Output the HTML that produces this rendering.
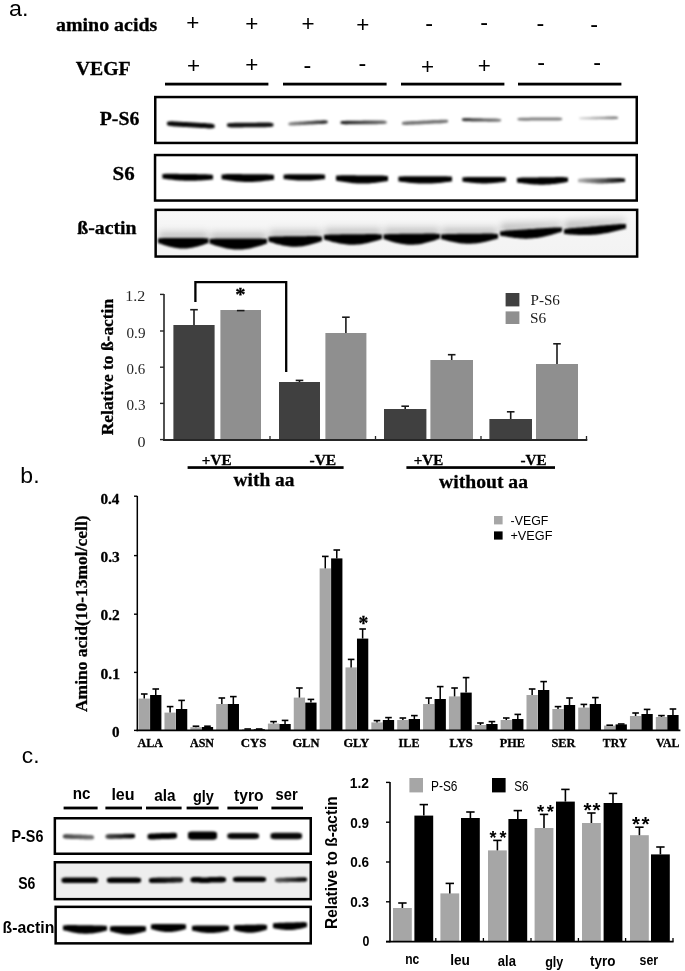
<!DOCTYPE html>
<html><head><meta charset="utf-8"><title>Figure</title>
<style>html,body{margin:0;padding:0;background:#fff;}body{width:685px;height:971px;overflow:hidden;}svg{display:block;}</style>
</head><body>
<svg width="685" height="971" viewBox="0 0 685 971">
<defs><filter id="b1" x="-20%" y="-200%" width="140%" height="500%"><feGaussianBlur stdDeviation="0.8"/></filter><filter id="b2" x="-20%" y="-200%" width="140%" height="500%"><feGaussianBlur stdDeviation="1.3"/></filter><filter id="b3" x="-20%" y="-200%" width="140%" height="500%"><feGaussianBlur stdDeviation="3"/></filter><linearGradient id="bgA" x1="0" y1="0" x2="0" y2="1"><stop offset="0" stop-color="#f8f8f8"/><stop offset="0.4" stop-color="#f5f5f5"/><stop offset="1" stop-color="#f3f3f3"/></linearGradient><linearGradient id="g1" gradientUnits="userSpaceOnUse" x1="288.4" y1="0" x2="327.6" y2="0"><stop offset="0" stop-color="#000" stop-opacity="0.45"/><stop offset="1" stop-color="#000" stop-opacity="0.85"/></linearGradient><linearGradient id="g2" gradientUnits="userSpaceOnUse" x1="340.6" y1="0" x2="386.6" y2="0"><stop offset="0" stop-color="#000" stop-opacity="0.9"/><stop offset="1" stop-color="#000" stop-opacity="0.55"/></linearGradient><linearGradient id="g3" gradientUnits="userSpaceOnUse" x1="462" y1="0" x2="501" y2="0"><stop offset="0" stop-color="#000" stop-opacity="0.8"/><stop offset="1" stop-color="#000" stop-opacity="0.5"/></linearGradient><linearGradient id="g4" gradientUnits="userSpaceOnUse" x1="579" y1="0" x2="618" y2="0"><stop offset="0" stop-color="#000" stop-opacity="0.12"/><stop offset="1" stop-color="#000" stop-opacity="0.55"/></linearGradient><linearGradient id="g5" gradientUnits="userSpaceOnUse" x1="578" y1="0" x2="625" y2="0"><stop offset="0" stop-color="#000" stop-opacity="0.3"/><stop offset="1" stop-color="#000" stop-opacity="1.0"/></linearGradient><linearGradient id="h6" x1="0" y1="0" x2="0" y2="1"><stop offset="0" stop-color="#000" stop-opacity="0"/><stop offset="1" stop-color="#000" stop-opacity="0.32"/></linearGradient><linearGradient id="h7" x1="0" y1="0" x2="0" y2="1"><stop offset="0" stop-color="#000" stop-opacity="0"/><stop offset="1" stop-color="#000" stop-opacity="0.32"/></linearGradient><linearGradient id="h8" x1="0" y1="0" x2="0" y2="1"><stop offset="0" stop-color="#000" stop-opacity="0"/><stop offset="1" stop-color="#000" stop-opacity="0.32"/></linearGradient><linearGradient id="h9" x1="0" y1="0" x2="0" y2="1"><stop offset="0" stop-color="#000" stop-opacity="0"/><stop offset="1" stop-color="#000" stop-opacity="0.32"/></linearGradient><linearGradient id="h10" x1="0" y1="0" x2="0" y2="1"><stop offset="0" stop-color="#000" stop-opacity="0"/><stop offset="1" stop-color="#000" stop-opacity="0.32"/></linearGradient><linearGradient id="h11" x1="0" y1="0" x2="0" y2="1"><stop offset="0" stop-color="#000" stop-opacity="0"/><stop offset="1" stop-color="#000" stop-opacity="0.32"/></linearGradient><linearGradient id="h12" x1="0" y1="0" x2="0" y2="1"><stop offset="0" stop-color="#000" stop-opacity="0"/><stop offset="1" stop-color="#000" stop-opacity="0.32"/></linearGradient><linearGradient id="h13" x1="0" y1="0" x2="0" y2="1"><stop offset="0" stop-color="#000" stop-opacity="0"/><stop offset="1" stop-color="#000" stop-opacity="0.32"/></linearGradient><linearGradient id="g14" gradientUnits="userSpaceOnUse" x1="63" y1="0" x2="94" y2="0"><stop offset="0" stop-color="#000" stop-opacity="0.72"/><stop offset="1" stop-color="#000" stop-opacity="0.55"/></linearGradient><linearGradient id="g15" gradientUnits="userSpaceOnUse" x1="105.6" y1="0" x2="135" y2="0"><stop offset="0" stop-color="#000" stop-opacity="0.7"/><stop offset="1" stop-color="#000" stop-opacity="1.0"/></linearGradient><linearGradient id="g16" gradientUnits="userSpaceOnUse" x1="149" y1="0" x2="183" y2="0"><stop offset="0" stop-color="#000" stop-opacity="1.0"/><stop offset="1" stop-color="#000" stop-opacity="0.85"/></linearGradient><linearGradient id="g17" gradientUnits="userSpaceOnUse" x1="275" y1="0" x2="307" y2="0"><stop offset="0" stop-color="#000" stop-opacity="0.6"/><stop offset="1" stop-color="#000" stop-opacity="1.0"/></linearGradient></defs>
<rect width="685" height="971" fill="#fff"/>
<rect x="165.00" y="82.70" width="103.40" height="2.80" fill="#000"/>
<rect x="283.00" y="82.70" width="103.60" height="2.80" fill="#000"/>
<rect x="401.00" y="82.70" width="103.40" height="2.80" fill="#000"/>
<rect x="518.00" y="82.70" width="103.40" height="2.80" fill="#000"/>
<path d="M167.0,122.0 L169.0,121.5 L171.0,121.3 L172.9,121.3 L174.9,121.5 L176.9,121.6 L178.9,121.7 L180.9,121.8 L182.9,121.9 L184.8,122.0 L186.8,122.1 L188.8,122.2 L190.8,122.3 L192.8,122.5 L194.8,122.6 L196.8,122.7 L198.7,122.8 L200.7,122.9 L202.7,123.0 L204.7,123.1 L206.7,123.2 L208.6,123.4 L210.6,123.6 L212.6,124.0 L214.6,124.7 L214.6,127.7 L212.6,128.2 L210.6,128.4 L208.6,128.4 L206.7,128.2 L204.7,128.1 L202.7,128.0 L200.7,127.9 L198.7,127.8 L196.8,127.7 L194.8,127.6 L192.8,127.5 L190.8,127.3 L188.8,127.2 L186.8,127.1 L184.8,127.0 L182.9,126.9 L180.9,126.8 L178.9,126.7 L176.9,126.6 L174.9,126.5 L172.9,126.3 L171.0,126.1 L169.0,125.7 L167.0,125.0Z" fill="#000" fill-opacity="0.97" filter="url(#b1)"/>
<path d="M227.0,123.8 L228.9,123.2 L230.9,123.0 L232.8,122.9 L234.7,122.8 L236.7,122.8 L238.6,122.8 L240.5,122.8 L242.5,122.8 L244.4,122.8 L246.3,122.7 L248.3,122.7 L250.2,122.7 L252.1,122.7 L254.1,122.7 L256.0,122.7 L257.9,122.6 L259.9,122.6 L261.8,122.6 L263.7,122.6 L265.7,122.6 L267.6,122.5 L269.5,122.6 L271.5,122.9 L273.4,123.4 L273.4,126.2 L271.5,126.8 L269.5,127.0 L267.6,127.1 L265.7,127.2 L263.7,127.2 L261.8,127.2 L259.9,127.2 L257.9,127.2 L256.0,127.2 L254.1,127.3 L252.1,127.3 L250.2,127.3 L248.3,127.3 L246.3,127.3 L244.4,127.3 L242.5,127.4 L240.5,127.4 L238.6,127.4 L236.7,127.4 L234.7,127.4 L232.8,127.5 L230.9,127.4 L228.9,127.1 L227.0,126.6Z" fill="#000" fill-opacity="0.93" filter="url(#b1)"/>
<path d="M288.4,122.9 L290.0,122.4 L291.7,122.1 L293.3,121.9 L294.9,121.8 L296.6,121.7 L298.2,121.7 L299.8,121.6 L301.5,121.5 L303.1,121.4 L304.7,121.3 L306.4,121.2 L308.0,121.1 L309.6,121.0 L311.3,120.9 L312.9,120.8 L314.5,120.7 L316.2,120.6 L317.8,120.5 L319.4,120.5 L321.1,120.4 L322.7,120.3 L324.3,120.3 L326.0,120.4 L327.6,120.7 L327.6,122.9 L326.0,123.4 L324.3,123.7 L322.7,123.9 L321.1,124.0 L319.4,124.1 L317.8,124.1 L316.2,124.2 L314.5,124.3 L312.9,124.4 L311.3,124.5 L309.6,124.6 L308.0,124.7 L306.4,124.8 L304.7,124.9 L303.1,125.0 L301.5,125.1 L299.8,125.2 L298.2,125.2 L296.6,125.3 L294.9,125.4 L293.3,125.5 L291.7,125.5 L290.0,125.4 L288.4,125.1Z" fill="url(#g1)" filter="url(#b1)"/>
<path d="M340.6,121.5 L342.5,121.1 L344.4,120.9 L346.4,120.8 L348.3,120.8 L350.2,120.7 L352.1,120.7 L354.0,120.7 L355.9,120.7 L357.9,120.7 L359.8,120.7 L361.7,120.7 L363.6,120.6 L365.5,120.6 L367.4,120.6 L369.4,120.6 L371.3,120.6 L373.2,120.6 L375.1,120.6 L377.0,120.6 L378.9,120.5 L380.9,120.5 L382.8,120.6 L384.7,120.8 L386.6,121.2 L386.6,123.4 L384.7,123.8 L382.8,124.0 L380.9,124.1 L378.9,124.1 L377.0,124.2 L375.1,124.2 L373.2,124.2 L371.3,124.2 L369.4,124.2 L367.4,124.2 L365.5,124.2 L363.6,124.2 L361.7,124.3 L359.8,124.3 L357.9,124.3 L355.9,124.3 L354.0,124.3 L352.1,124.3 L350.2,124.3 L348.3,124.3 L346.4,124.4 L344.4,124.3 L342.5,124.1 L340.6,123.7Z" fill="url(#g2)" filter="url(#b1)"/>
<path d="M402.0,122.3 L403.9,121.8 L405.8,121.5 L407.8,121.3 L409.7,121.2 L411.6,121.1 L413.5,121.1 L415.4,121.0 L417.3,120.9 L419.2,120.8 L421.2,120.7 L423.1,120.6 L425.0,120.5 L426.9,120.4 L428.8,120.3 L430.8,120.2 L432.7,120.1 L434.6,120.0 L436.5,120.0 L438.4,119.9 L440.3,119.8 L442.2,119.7 L444.2,119.7 L446.1,119.8 L448.0,120.1 L448.0,122.3 L446.1,122.8 L444.2,123.1 L442.2,123.3 L440.3,123.4 L438.4,123.5 L436.5,123.5 L434.6,123.6 L432.7,123.7 L430.8,123.8 L428.8,123.9 L426.9,124.0 L425.0,124.1 L423.1,124.2 L421.2,124.3 L419.2,124.4 L417.3,124.5 L415.4,124.6 L413.5,124.7 L411.6,124.7 L409.7,124.8 L407.8,124.9 L405.8,124.9 L403.9,124.8 L402.0,124.5Z" fill="#000" fill-opacity="0.55" filter="url(#b1)"/>
<path d="M462.0,118.6 L463.6,118.3 L465.2,118.1 L466.9,118.1 L468.5,118.1 L470.1,118.1 L471.8,118.2 L473.4,118.2 L475.0,118.2 L476.6,118.3 L478.2,118.3 L479.9,118.3 L481.5,118.3 L483.1,118.4 L484.8,118.4 L486.4,118.4 L488.0,118.5 L489.6,118.5 L491.2,118.5 L492.9,118.6 L494.5,118.6 L496.1,118.6 L497.8,118.7 L499.4,118.9 L501.0,119.3 L501.0,121.3 L499.4,121.6 L497.8,121.8 L496.1,121.8 L494.5,121.8 L492.9,121.8 L491.2,121.7 L489.6,121.7 L488.0,121.7 L486.4,121.6 L484.8,121.6 L483.1,121.6 L481.5,121.5 L479.9,121.5 L478.2,121.5 L476.6,121.5 L475.0,121.4 L473.4,121.4 L471.8,121.4 L470.1,121.3 L468.5,121.3 L466.9,121.3 L465.2,121.2 L463.6,121.0 L462.0,120.6Z" fill="url(#g3)" filter="url(#b1)"/>
<path d="M517.6,118.3 L519.5,117.9 L521.3,117.8 L523.1,117.7 L525.0,117.7 L526.9,117.7 L528.7,117.7 L530.6,117.6 L532.4,117.6 L534.2,117.6 L536.1,117.6 L538.0,117.6 L539.8,117.6 L541.6,117.6 L543.5,117.6 L545.4,117.6 L547.2,117.6 L549.0,117.6 L550.9,117.5 L552.8,117.5 L554.6,117.5 L556.5,117.5 L558.3,117.6 L560.1,117.7 L562.0,118.1 L562.0,119.9 L560.1,120.3 L558.3,120.4 L556.5,120.5 L554.6,120.5 L552.8,120.5 L550.9,120.5 L549.0,120.6 L547.2,120.6 L545.4,120.6 L543.5,120.6 L541.6,120.6 L539.8,120.6 L538.0,120.6 L536.1,120.6 L534.2,120.6 L532.4,120.6 L530.6,120.6 L528.7,120.7 L526.9,120.7 L525.0,120.7 L523.1,120.7 L521.3,120.6 L519.5,120.5 L517.6,120.1Z" fill="#000" fill-opacity="0.5" filter="url(#b1)"/>
<path d="M579.0,117.5 L580.6,117.2 L582.2,117.0 L583.9,116.9 L585.5,116.9 L587.1,116.9 L588.8,116.9 L590.4,116.9 L592.0,116.8 L593.6,116.8 L595.2,116.8 L596.9,116.8 L598.5,116.8 L600.1,116.7 L601.8,116.7 L603.4,116.7 L605.0,116.7 L606.6,116.6 L608.2,116.6 L609.9,116.6 L611.5,116.6 L613.1,116.6 L614.8,116.6 L616.4,116.7 L618.0,117.0 L618.0,118.6 L616.4,118.9 L614.8,119.1 L613.1,119.2 L611.5,119.2 L609.9,119.2 L608.2,119.2 L606.6,119.2 L605.0,119.3 L603.4,119.3 L601.8,119.3 L600.1,119.3 L598.5,119.3 L596.9,119.4 L595.2,119.4 L593.6,119.4 L592.0,119.4 L590.4,119.5 L588.8,119.5 L587.1,119.5 L585.5,119.5 L583.9,119.5 L582.2,119.5 L580.6,119.4 L579.0,119.1Z" fill="url(#g4)" filter="url(#b1)"/>
<rect x="155.25" y="97.05" width="481.50" height="45.90" fill="none" stroke="#000" stroke-width="2.5"/>
<path d="M162.4,174.1 L164.1,174.0 L165.8,173.8 L167.5,173.7 L169.1,173.7 L170.8,173.7 L172.5,173.8 L174.2,173.8 L175.9,173.8 L177.6,173.8 L179.3,173.9 L181.0,173.9 L182.6,173.9 L184.3,173.9 L186.0,174.0 L187.7,174.0 L189.4,174.0 L191.1,174.1 L192.8,174.1 L194.4,174.1 L196.1,174.1 L197.8,174.2 L199.5,174.2 L201.2,174.2 L202.9,174.2 L204.6,174.3 L206.3,174.3 L207.9,174.4 L209.6,174.5 L211.3,174.7 L213.0,174.9 L213.0,179.4 L211.3,179.6 L209.6,179.7 L207.9,179.9 L206.3,180.0 L204.6,180.2 L202.9,180.3 L201.2,180.4 L199.5,180.5 L197.8,180.6 L196.1,180.7 L194.4,180.8 L192.8,180.8 L191.1,180.8 L189.4,180.8 L187.7,180.8 L186.0,180.8 L184.3,180.7 L182.6,180.6 L181.0,180.5 L179.3,180.4 L177.6,180.3 L175.9,180.2 L174.2,180.0 L172.5,179.8 L170.8,179.6 L169.1,179.4 L167.5,179.2 L165.8,179.0 L164.1,178.8 L162.4,178.6Z" fill="#000" fill-opacity="1.0" filter="url(#b1)"/>
<path d="M221.6,174.5 L223.3,174.4 L225.1,174.2 L226.8,174.1 L228.6,174.1 L230.3,174.1 L232.1,174.1 L233.8,174.1 L235.6,174.1 L237.3,174.1 L239.1,174.1 L240.8,174.1 L242.6,174.2 L244.3,174.2 L246.1,174.2 L247.8,174.2 L249.5,174.2 L251.3,174.2 L253.0,174.2 L254.8,174.3 L256.5,174.3 L258.3,174.3 L260.0,174.3 L261.8,174.3 L263.5,174.3 L265.3,174.3 L267.0,174.3 L268.8,174.4 L270.5,174.6 L272.3,174.7 L274.0,174.9 L274.0,179.6 L272.3,179.9 L270.5,180.1 L268.8,180.4 L267.0,180.6 L265.3,180.8 L263.5,181.0 L261.8,181.2 L260.0,181.4 L258.3,181.6 L256.5,181.7 L254.8,181.8 L253.0,181.9 L251.3,182.0 L249.5,182.0 L247.8,182.0 L246.1,182.0 L244.3,181.9 L242.6,181.8 L240.8,181.7 L239.1,181.6 L237.3,181.4 L235.6,181.2 L233.8,181.0 L232.1,180.8 L230.3,180.6 L228.6,180.3 L226.8,180.0 L225.1,179.8 L223.3,179.5 L221.6,179.2Z" fill="#000" fill-opacity="1.0" filter="url(#b1)"/>
<path d="M283.6,174.7 L285.0,174.5 L286.4,174.4 L287.7,174.2 L289.1,174.2 L290.5,174.2 L291.9,174.2 L293.3,174.2 L294.6,174.2 L296.0,174.2 L297.4,174.2 L298.8,174.2 L300.2,174.2 L301.5,174.2 L302.9,174.2 L304.3,174.2 L305.7,174.2 L307.1,174.2 L308.4,174.2 L309.8,174.2 L311.2,174.2 L312.6,174.2 L314.0,174.2 L315.3,174.2 L316.7,174.2 L318.1,174.2 L319.5,174.2 L320.9,174.2 L322.2,174.4 L323.6,174.5 L325.0,174.7 L325.0,179.0 L323.6,179.2 L322.2,179.3 L320.9,179.5 L319.5,179.7 L318.1,179.8 L316.7,179.9 L315.3,180.1 L314.0,180.2 L312.6,180.3 L311.2,180.4 L309.8,180.5 L308.4,180.5 L307.1,180.6 L305.7,180.6 L304.3,180.6 L302.9,180.6 L301.5,180.6 L300.2,180.5 L298.8,180.5 L297.4,180.4 L296.0,180.3 L294.6,180.2 L293.3,180.1 L291.9,179.9 L290.5,179.8 L289.1,179.7 L287.7,179.5 L286.4,179.3 L285.0,179.2 L283.6,179.0Z" fill="#000" fill-opacity="1.0" filter="url(#b1)"/>
<path d="M336.0,175.7 L337.7,175.6 L339.5,175.4 L341.2,175.3 L342.9,175.3 L344.7,175.3 L346.4,175.3 L348.1,175.3 L349.9,175.3 L351.6,175.3 L353.3,175.3 L355.1,175.3 L356.8,175.4 L358.5,175.4 L360.3,175.4 L362.0,175.4 L363.7,175.4 L365.5,175.4 L367.2,175.4 L368.9,175.5 L370.7,175.5 L372.4,175.5 L374.1,175.5 L375.9,175.5 L377.6,175.5 L379.3,175.5 L381.1,175.5 L382.8,175.6 L384.5,175.8 L386.3,175.9 L388.0,176.1 L388.0,181.0 L386.3,181.3 L384.5,181.6 L382.8,181.8 L381.1,182.1 L379.3,182.3 L377.6,182.6 L375.9,182.8 L374.1,183.0 L372.4,183.1 L370.7,183.3 L368.9,183.4 L367.2,183.5 L365.5,183.6 L363.7,183.6 L362.0,183.6 L360.3,183.6 L358.5,183.5 L356.8,183.4 L355.1,183.3 L353.3,183.2 L351.6,183.0 L349.9,182.8 L348.1,182.6 L346.4,182.3 L344.7,182.1 L342.9,181.8 L341.2,181.5 L339.5,181.2 L337.7,180.9 L336.0,180.6Z" fill="#000" fill-opacity="1.0" filter="url(#b1)"/>
<path d="M398.4,176.7 L400.2,176.5 L402.0,176.4 L403.8,176.2 L405.5,176.2 L407.3,176.2 L409.1,176.2 L410.9,176.2 L412.7,176.2 L414.5,176.2 L416.3,176.2 L418.1,176.2 L419.8,176.2 L421.6,176.2 L423.4,176.2 L425.2,176.2 L427.0,176.2 L428.8,176.2 L430.6,176.2 L432.3,176.2 L434.1,176.2 L435.9,176.2 L437.7,176.2 L439.5,176.2 L441.3,176.2 L443.1,176.2 L444.9,176.2 L446.6,176.2 L448.4,176.4 L450.2,176.5 L452.0,176.7 L452.0,181.4 L450.2,181.6 L448.4,181.9 L446.6,182.1 L444.9,182.3 L443.1,182.5 L441.3,182.7 L439.5,182.9 L437.7,183.0 L435.9,183.2 L434.1,183.3 L432.3,183.4 L430.6,183.5 L428.8,183.6 L427.0,183.6 L425.2,183.6 L423.4,183.6 L421.6,183.6 L419.8,183.5 L418.1,183.4 L416.3,183.3 L414.5,183.2 L412.7,183.0 L410.9,182.9 L409.1,182.7 L407.3,182.5 L405.5,182.3 L403.8,182.1 L402.0,181.9 L400.2,181.6 L398.4,181.4Z" fill="#000" fill-opacity="1.0" filter="url(#b1)"/>
<path d="M462.4,177.5 L463.9,177.3 L465.3,177.2 L466.8,177.0 L468.2,177.0 L469.7,177.0 L471.1,177.0 L472.6,177.0 L474.0,177.0 L475.5,177.0 L476.9,177.0 L478.4,177.0 L479.8,177.0 L481.3,177.0 L482.7,177.0 L484.2,177.0 L485.7,177.0 L487.1,177.0 L488.6,177.0 L490.0,177.0 L491.5,177.0 L492.9,177.0 L494.4,177.0 L495.8,177.0 L497.3,177.0 L498.7,177.0 L500.2,177.0 L501.6,177.0 L503.1,177.2 L504.5,177.3 L506.0,177.5 L506.0,181.6 L504.5,181.8 L503.1,182.0 L501.6,182.2 L500.2,182.3 L498.7,182.5 L497.3,182.7 L495.8,182.8 L494.4,182.9 L492.9,183.1 L491.5,183.2 L490.0,183.2 L488.6,183.3 L487.1,183.4 L485.7,183.4 L484.2,183.4 L482.7,183.4 L481.3,183.4 L479.8,183.3 L478.4,183.2 L476.9,183.2 L475.5,183.1 L474.0,182.9 L472.6,182.8 L471.1,182.7 L469.7,182.5 L468.2,182.3 L466.8,182.2 L465.3,182.0 L463.9,181.8 L462.4,181.6Z" fill="#000" fill-opacity="1.0" filter="url(#b1)"/>
<path d="M517.0,178.1 L518.7,177.9 L520.4,177.7 L522.1,177.6 L523.8,177.5 L525.5,177.5 L527.2,177.5 L528.9,177.5 L530.6,177.4 L532.3,177.4 L534.0,177.4 L535.7,177.4 L537.4,177.4 L539.1,177.3 L540.8,177.3 L542.5,177.3 L544.2,177.3 L545.9,177.3 L547.6,177.2 L549.3,177.2 L551.0,177.2 L552.7,177.2 L554.4,177.2 L556.1,177.1 L557.8,177.1 L559.5,177.1 L561.2,177.1 L562.9,177.1 L564.6,177.2 L566.3,177.4 L568.0,177.5 L568.0,181.8 L566.3,182.1 L564.6,182.4 L562.9,182.7 L561.2,182.9 L559.5,183.2 L557.8,183.4 L556.1,183.7 L554.4,183.9 L552.7,184.1 L551.0,184.3 L549.3,184.4 L547.6,184.5 L545.9,184.6 L544.2,184.7 L542.5,184.7 L540.8,184.7 L539.1,184.7 L537.4,184.6 L535.7,184.6 L534.0,184.5 L532.3,184.3 L530.6,184.2 L528.9,184.0 L527.2,183.8 L525.5,183.6 L523.8,183.4 L522.1,183.1 L520.4,182.9 L518.7,182.7 L517.0,182.4Z" fill="#000" fill-opacity="1.0" filter="url(#b1)"/>
<path d="M578.0,178.9 L579.6,178.7 L581.1,178.6 L582.7,178.4 L584.3,178.3 L585.8,178.3 L587.4,178.3 L589.0,178.3 L590.5,178.3 L592.1,178.3 L593.7,178.3 L595.2,178.3 L596.8,178.2 L598.4,178.2 L599.9,178.2 L601.5,178.2 L603.1,178.2 L604.6,178.2 L606.2,178.2 L607.8,178.1 L609.3,178.1 L610.9,178.1 L612.5,178.1 L614.0,178.1 L615.6,178.1 L617.2,178.1 L618.7,178.1 L620.3,178.1 L621.9,178.2 L623.4,178.4 L625.0,178.5 L625.0,181.8 L623.4,182.0 L621.9,182.1 L620.3,182.3 L618.7,182.4 L617.2,182.6 L615.6,182.7 L614.0,182.8 L612.5,182.9 L610.9,183.1 L609.3,183.1 L607.8,183.2 L606.2,183.3 L604.6,183.3 L603.1,183.4 L601.5,183.4 L599.9,183.4 L598.4,183.4 L596.8,183.4 L595.2,183.3 L593.7,183.3 L592.1,183.2 L590.5,183.1 L589.0,183.0 L587.4,182.9 L585.8,182.8 L584.3,182.7 L582.7,182.6 L581.1,182.5 L579.6,182.3 L578.0,182.2Z" fill="url(#g5)" filter="url(#b1)"/>
<rect x="155.05" y="155.05" width="481.70" height="45.50" fill="none" stroke="#000" stroke-width="2.5"/>
<rect x="156" y="211" width="480" height="45" fill="url(#bgA)"/>
<path d="M158.0,238.5 L159.7,238.3 L161.4,238.2 L163.1,238.0 L164.7,238.0 L166.4,238.0 L168.1,238.0 L169.8,238.0 L171.5,238.0 L173.2,238.0 L174.8,238.0 L176.5,238.0 L178.2,238.0 L179.9,238.0 L181.6,238.0 L183.2,238.0 L184.9,238.0 L186.6,238.0 L188.3,238.0 L190.0,238.0 L191.7,238.0 L193.3,238.0 L195.0,238.0 L196.7,238.0 L198.4,238.0 L200.1,238.0 L201.8,238.0 L203.4,238.0 L205.1,238.2 L206.8,238.3 L208.5,238.5 L208.5,243.0 L206.8,243.6 L205.1,244.1 L203.4,244.7 L201.8,245.2 L200.1,245.8 L198.4,246.2 L196.7,246.7 L195.0,247.1 L193.3,247.4 L191.7,247.8 L190.0,248.0 L188.3,248.2 L186.6,248.4 L184.9,248.5 L183.2,248.5 L181.6,248.5 L179.9,248.4 L178.2,248.2 L176.5,248.0 L174.8,247.8 L173.2,247.4 L171.5,247.1 L169.8,246.7 L168.1,246.2 L166.4,245.8 L164.7,245.2 L163.1,244.7 L161.4,244.1 L159.7,243.6 L158.0,243.0Z" fill="#000" fill-opacity="1.0" filter="url(#b2)"/>
<path d="M159.0,229.0 L207.5,229.0 L207.5,239.0 L159.0,239.0Z" fill="url(#h6)" filter="url(#b3)"/>
<path d="M209.5,239.0 L211.4,238.8 L213.3,238.7 L215.2,238.5 L217.2,238.5 L219.1,238.5 L221.0,238.5 L222.9,238.5 L224.8,238.5 L226.8,238.5 L228.7,238.5 L230.6,238.5 L232.5,238.5 L234.4,238.5 L236.3,238.5 L238.2,238.5 L240.2,238.5 L242.1,238.5 L244.0,238.5 L245.9,238.5 L247.8,238.5 L249.8,238.5 L251.7,238.5 L253.6,238.5 L255.5,238.5 L257.4,238.5 L259.3,238.5 L261.2,238.5 L263.2,238.7 L265.1,238.8 L267.0,239.0 L267.0,243.5 L265.1,244.1 L263.2,244.7 L261.2,245.4 L259.3,245.9 L257.4,246.5 L255.5,247.0 L253.6,247.5 L251.7,248.0 L249.8,248.4 L247.8,248.7 L245.9,249.0 L244.0,249.2 L242.1,249.4 L240.2,249.5 L238.2,249.5 L236.3,249.5 L234.4,249.4 L232.5,249.2 L230.6,249.0 L228.7,248.7 L226.8,248.4 L224.8,248.0 L222.9,247.5 L221.0,247.0 L219.1,246.5 L217.2,245.9 L215.2,245.4 L213.3,244.7 L211.4,244.1 L209.5,243.5Z" fill="#000" fill-opacity="1.0" filter="url(#b2)"/>
<path d="M210.5,229.5 L266.0,229.5 L266.0,239.5 L210.5,239.5Z" fill="url(#h7)" filter="url(#b3)"/>
<path d="M268.5,237.0 L270.3,236.8 L272.1,236.7 L273.9,236.5 L275.6,236.4 L277.4,236.4 L279.2,236.4 L281.0,236.4 L282.8,236.4 L284.6,236.3 L286.3,236.3 L288.1,236.3 L289.9,236.3 L291.7,236.3 L293.5,236.3 L295.2,236.2 L297.0,236.2 L298.8,236.2 L300.6,236.2 L302.4,236.2 L304.2,236.2 L305.9,236.2 L307.7,236.1 L309.5,236.1 L311.3,236.1 L313.1,236.1 L314.9,236.1 L316.6,236.1 L318.4,236.2 L320.2,236.4 L322.0,236.5 L322.0,241.0 L320.2,241.6 L318.4,242.2 L316.6,242.7 L314.9,243.3 L313.1,243.8 L311.3,244.3 L309.5,244.8 L307.7,245.2 L305.9,245.6 L304.2,245.9 L302.4,246.2 L300.6,246.4 L298.8,246.6 L297.0,246.7 L295.2,246.8 L293.5,246.7 L291.7,246.7 L289.9,246.5 L288.1,246.3 L286.3,246.1 L284.6,245.8 L282.8,245.5 L281.0,245.1 L279.2,244.6 L277.4,244.2 L275.6,243.7 L273.9,243.1 L272.1,242.6 L270.3,242.1 L268.5,241.5Z" fill="#000" fill-opacity="1.0" filter="url(#b2)"/>
<path d="M269.5,227.5 L321.0,227.0 L321.0,237.0 L269.5,237.5Z" fill="url(#h8)" filter="url(#b3)"/>
<path d="M324.0,235.0 L325.9,234.8 L327.9,234.7 L329.8,234.5 L331.7,234.4 L333.7,234.4 L335.6,234.4 L337.5,234.4 L339.5,234.4 L341.4,234.3 L343.3,234.3 L345.3,234.3 L347.2,234.3 L349.1,234.3 L351.1,234.3 L353.0,234.2 L354.9,234.2 L356.9,234.2 L358.8,234.2 L360.7,234.2 L362.7,234.2 L364.6,234.2 L366.5,234.1 L368.5,234.1 L370.4,234.1 L372.3,234.1 L374.3,234.1 L376.2,234.1 L378.1,234.2 L380.1,234.4 L382.0,234.5 L382.0,239.0 L380.1,239.6 L378.1,240.2 L376.2,240.7 L374.3,241.3 L372.3,241.8 L370.4,242.3 L368.5,242.8 L366.5,243.2 L364.6,243.6 L362.7,243.9 L360.7,244.2 L358.8,244.4 L356.9,244.6 L354.9,244.7 L353.0,244.8 L351.1,244.7 L349.1,244.7 L347.2,244.5 L345.3,244.3 L343.3,244.1 L341.4,243.8 L339.5,243.5 L337.5,243.1 L335.6,242.6 L333.7,242.2 L331.7,241.7 L329.8,241.1 L327.9,240.6 L325.9,240.1 L324.0,239.5Z" fill="#000" fill-opacity="1.0" filter="url(#b2)"/>
<path d="M325.0,225.5 L381.0,225.0 L381.0,235.0 L325.0,235.5Z" fill="url(#h9)" filter="url(#b3)"/>
<path d="M383.5,234.5 L385.4,234.3 L387.3,234.2 L389.1,234.0 L391.0,233.9 L392.9,233.9 L394.8,233.9 L396.7,233.9 L398.6,233.9 L400.4,233.8 L402.3,233.8 L404.2,233.8 L406.1,233.8 L408.0,233.8 L409.9,233.8 L411.8,233.8 L413.6,233.7 L415.5,233.7 L417.4,233.7 L419.3,233.7 L421.2,233.7 L423.1,233.7 L424.9,233.6 L426.8,233.6 L428.7,233.6 L430.6,233.6 L432.5,233.6 L434.4,233.6 L436.2,233.7 L438.1,233.9 L440.0,234.0 L440.0,238.5 L438.1,239.1 L436.2,239.8 L434.4,240.4 L432.5,241.0 L430.6,241.6 L428.7,242.1 L426.8,242.6 L424.9,243.1 L423.1,243.5 L421.2,243.9 L419.3,244.2 L417.4,244.4 L415.5,244.6 L413.6,244.7 L411.8,244.8 L409.9,244.7 L408.0,244.7 L406.1,244.5 L404.2,244.3 L402.3,244.0 L400.4,243.7 L398.6,243.3 L396.7,242.9 L394.8,242.4 L392.9,241.9 L391.0,241.4 L389.1,240.8 L387.3,240.2 L385.4,239.6 L383.5,239.0Z" fill="#000" fill-opacity="1.0" filter="url(#b2)"/>
<path d="M384.5,225.0 L439.0,224.5 L439.0,234.5 L384.5,235.0Z" fill="url(#h10)" filter="url(#b3)"/>
<path d="M441.0,234.5 L442.9,234.3 L444.8,234.2 L446.7,234.0 L448.6,233.9 L450.5,233.9 L452.4,233.9 L454.3,233.9 L456.2,233.9 L458.1,233.8 L460.0,233.8 L461.9,233.8 L463.8,233.8 L465.7,233.8 L467.6,233.8 L469.5,233.8 L471.4,233.7 L473.3,233.7 L475.2,233.7 L477.1,233.7 L479.0,233.7 L480.9,233.7 L482.8,233.6 L484.7,233.6 L486.6,233.6 L488.5,233.6 L490.4,233.6 L492.3,233.6 L494.2,233.7 L496.1,233.9 L498.0,234.0 L498.0,238.5 L496.1,239.0 L494.2,239.6 L492.3,240.1 L490.4,240.6 L488.5,241.1 L486.6,241.5 L484.7,242.0 L482.8,242.3 L480.9,242.7 L479.0,243.0 L477.1,243.3 L475.2,243.5 L473.3,243.6 L471.4,243.7 L469.5,243.8 L467.6,243.7 L465.7,243.7 L463.8,243.6 L461.9,243.4 L460.0,243.2 L458.1,242.9 L456.2,242.6 L454.3,242.2 L452.4,241.8 L450.5,241.4 L448.6,241.0 L446.7,240.5 L444.8,240.0 L442.9,239.5 L441.0,239.0Z" fill="#000" fill-opacity="1.0" filter="url(#b2)"/>
<path d="M442.0,225.0 L497.0,224.5 L497.0,234.5 L442.0,235.0Z" fill="url(#h11)" filter="url(#b3)"/>
<path d="M500.0,231.5 L502.1,231.2 L504.1,230.9 L506.2,230.6 L508.3,230.5 L510.3,230.3 L512.4,230.2 L514.5,230.1 L516.5,229.9 L518.6,229.8 L520.7,229.7 L522.7,229.5 L524.8,229.4 L526.9,229.3 L528.9,229.1 L531.0,229.0 L533.1,228.9 L535.1,228.7 L537.2,228.6 L539.3,228.5 L541.3,228.3 L543.4,228.2 L545.5,228.1 L547.5,227.9 L549.6,227.8 L551.7,227.7 L553.7,227.5 L555.8,227.4 L557.9,227.5 L559.9,227.5 L562.0,227.5 L562.0,231.5 L559.9,232.2 L557.9,232.8 L555.8,233.4 L553.7,234.1 L551.7,234.7 L549.6,235.2 L547.5,235.8 L545.5,236.3 L543.4,236.7 L541.3,237.2 L539.3,237.5 L537.2,237.9 L535.1,238.1 L533.1,238.3 L531.0,238.5 L528.9,238.6 L526.9,238.7 L524.8,238.7 L522.7,238.6 L520.7,238.5 L518.6,238.3 L516.5,238.1 L514.5,237.9 L512.4,237.6 L510.3,237.3 L508.3,237.0 L506.2,236.6 L504.1,236.3 L502.1,235.9 L500.0,235.5Z" fill="#000" fill-opacity="1.0" filter="url(#b2)"/>
<path d="M501.0,222.0 L561.0,218.0 L561.0,228.0 L501.0,232.0Z" fill="url(#h12)" filter="url(#b3)"/>
<path d="M564.0,229.3 L566.1,229.0 L568.1,228.6 L570.2,228.3 L572.3,228.1 L574.3,227.9 L576.4,227.7 L578.5,227.6 L580.5,227.4 L582.6,227.2 L584.7,227.0 L586.7,226.9 L588.8,226.7 L590.9,226.5 L592.9,226.3 L595.0,226.2 L597.1,226.0 L599.1,225.8 L601.2,225.6 L603.3,225.4 L605.3,225.3 L607.4,225.1 L609.5,224.9 L611.5,224.7 L613.6,224.6 L615.7,224.4 L617.7,224.2 L619.8,224.1 L621.9,224.0 L623.9,224.0 L626.0,224.0 L626.0,228.5 L623.9,229.0 L621.9,229.6 L619.8,230.1 L617.7,230.6 L615.7,231.1 L613.6,231.6 L611.5,232.1 L609.5,232.5 L607.4,232.9 L605.3,233.3 L603.3,233.6 L601.2,233.9 L599.1,234.2 L597.1,234.5 L595.0,234.7 L592.9,234.8 L590.9,234.9 L588.8,235.0 L586.7,235.1 L584.7,235.1 L582.6,235.0 L580.5,235.0 L578.5,234.9 L576.4,234.8 L574.3,234.7 L572.3,234.5 L570.2,234.4 L568.1,234.2 L566.1,234.0 L564.0,233.8Z" fill="#000" fill-opacity="1.0" filter="url(#b2)"/>
<path d="M565.0,219.8 L625.0,214.5 L625.0,224.5 L565.0,229.8Z" fill="url(#h13)" filter="url(#b3)"/>
<rect x="155.65" y="209.85" width="481.50" height="46.70" fill="none" stroke="#000" stroke-width="2.5"/>
<path d="M63.0,834.9 L64.3,834.4 L65.6,834.2 L66.9,834.1 L68.2,834.2 L69.5,834.2 L70.8,834.3 L72.0,834.3 L73.3,834.4 L74.6,834.4 L75.9,834.5 L77.2,834.5 L78.5,834.5 L79.8,834.6 L81.1,834.6 L82.4,834.7 L83.7,834.7 L85.0,834.8 L86.2,834.8 L87.5,834.9 L88.8,834.9 L90.1,835.0 L91.4,835.1 L92.7,835.4 L94.0,836.0 L94.0,838.8 L92.7,839.3 L91.4,839.5 L90.1,839.6 L88.8,839.5 L87.5,839.5 L86.2,839.4 L85.0,839.4 L83.7,839.3 L82.4,839.3 L81.1,839.2 L79.8,839.2 L78.5,839.1 L77.2,839.1 L75.9,839.1 L74.6,839.0 L73.3,839.0 L72.0,838.9 L70.8,838.9 L69.5,838.8 L68.2,838.8 L66.9,838.7 L65.6,838.6 L64.3,838.3 L63.0,837.7Z" fill="url(#g14)" filter="url(#b1)"/>
<path d="M105.6,835.2 L106.8,834.5 L108.0,834.3 L109.3,834.1 L110.5,834.1 L111.7,834.1 L112.9,834.1 L114.2,834.0 L115.4,834.0 L116.6,834.0 L117.8,834.0 L119.1,833.9 L120.3,833.9 L121.5,833.9 L122.8,833.9 L124.0,833.8 L125.2,833.8 L126.4,833.8 L127.7,833.8 L128.9,833.7 L130.1,833.7 L131.3,833.7 L132.6,833.8 L133.8,834.0 L135.0,834.6 L135.0,837.4 L133.8,838.1 L132.6,838.3 L131.3,838.5 L130.1,838.5 L128.9,838.5 L127.7,838.5 L126.4,838.6 L125.2,838.6 L124.0,838.6 L122.8,838.6 L121.5,838.7 L120.3,838.7 L119.1,838.7 L117.8,838.8 L116.6,838.8 L115.4,838.8 L114.2,838.8 L112.9,838.9 L111.7,838.9 L110.5,838.9 L109.3,838.9 L108.0,838.8 L106.8,838.6 L105.6,838.0Z" fill="url(#g15)" filter="url(#b1)"/>
<path d="M147.6,834.8 L148.8,834.0 L150.0,833.7 L151.3,833.5 L152.5,833.4 L153.7,833.4 L154.9,833.4 L156.2,833.3 L157.4,833.3 L158.6,833.2 L159.8,833.2 L161.1,833.1 L162.3,833.1 L163.5,833.1 L164.8,833.0 L166.0,833.0 L167.2,832.9 L168.4,832.9 L169.7,832.9 L170.9,832.8 L172.1,832.8 L173.3,832.7 L174.6,832.8 L175.8,833.1 L177.0,833.8 L177.0,837.4 L175.8,838.2 L174.6,838.5 L173.3,838.7 L172.1,838.8 L170.9,838.8 L169.7,838.9 L168.4,838.9 L167.2,838.9 L166.0,839.0 L164.8,839.0 L163.5,839.1 L162.3,839.1 L161.1,839.1 L159.8,839.2 L158.6,839.2 L157.4,839.3 L156.2,839.3 L154.9,839.4 L153.7,839.4 L152.5,839.4 L151.3,839.5 L150.0,839.4 L148.8,839.1 L147.6,838.4Z" fill="#000" fill-opacity="1.0" filter="url(#b1)"/>
<path d="M188.0,833.1 L189.2,832.1 L190.4,831.7 L191.6,831.5 L192.8,831.5 L194.0,831.5 L195.2,831.5 L196.5,831.5 L197.7,831.5 L198.9,831.5 L200.1,831.5 L201.3,831.5 L202.5,831.5 L203.7,831.5 L204.9,831.5 L206.1,831.5 L207.3,831.5 L208.5,831.5 L209.8,831.5 L211.0,831.5 L212.2,831.5 L213.4,831.5 L214.6,831.7 L215.8,832.1 L217.0,833.1 L217.0,838.1 L215.8,839.1 L214.6,839.5 L213.4,839.7 L212.2,839.7 L211.0,839.7 L209.8,839.7 L208.5,839.7 L207.3,839.7 L206.1,839.7 L204.9,839.7 L203.7,839.7 L202.5,839.7 L201.3,839.7 L200.1,839.7 L198.9,839.7 L197.7,839.7 L196.5,839.7 L195.2,839.7 L194.0,839.7 L192.8,839.7 L191.6,839.7 L190.4,839.5 L189.2,839.1 L188.0,838.1Z" fill="#000" fill-opacity="1.0" filter="url(#b1)"/>
<path d="M227.4,834.3 L228.7,833.5 L230.0,833.2 L231.3,833.1 L232.7,833.1 L234.0,833.1 L235.3,833.1 L236.6,833.1 L237.9,833.1 L239.2,833.1 L240.6,833.1 L241.9,833.1 L243.2,833.1 L244.5,833.1 L245.8,833.1 L247.2,833.1 L248.5,833.1 L249.8,833.1 L251.1,833.1 L252.4,833.1 L253.7,833.1 L255.1,833.1 L256.4,833.2 L257.7,833.5 L259.0,834.3 L259.0,837.7 L257.7,838.5 L256.4,838.8 L255.1,838.9 L253.7,838.9 L252.4,838.9 L251.1,838.9 L249.8,838.9 L248.5,838.9 L247.2,838.9 L245.8,838.9 L244.5,838.9 L243.2,838.9 L241.9,838.9 L240.6,838.9 L239.2,838.9 L237.9,838.9 L236.6,838.9 L235.3,838.9 L234.0,838.9 L232.7,838.9 L231.3,838.9 L230.0,838.8 L228.7,838.5 L227.4,837.7Z" fill="#000" fill-opacity="0.97" filter="url(#b1)"/>
<path d="M270.6,834.1 L271.9,833.3 L273.2,833.0 L274.5,832.8 L275.8,832.8 L277.1,832.8 L278.5,832.8 L279.8,832.8 L281.1,832.8 L282.4,832.8 L283.7,832.8 L285.0,832.8 L286.3,832.8 L287.6,832.8 L288.9,832.8 L290.2,832.8 L291.5,832.8 L292.8,832.8 L294.1,832.8 L295.5,832.8 L296.8,832.8 L298.1,832.8 L299.4,833.0 L300.7,833.3 L302.0,834.1 L302.0,837.9 L300.7,838.7 L299.4,839.0 L298.1,839.2 L296.8,839.2 L295.5,839.2 L294.1,839.2 L292.8,839.2 L291.5,839.2 L290.2,839.2 L288.9,839.2 L287.6,839.2 L286.3,839.2 L285.0,839.2 L283.7,839.2 L282.4,839.2 L281.1,839.2 L279.8,839.2 L278.5,839.2 L277.1,839.2 L275.8,839.2 L274.5,839.2 L273.2,839.0 L271.9,838.7 L270.6,837.9Z" fill="#000" fill-opacity="0.97" filter="url(#b1)"/>
<rect x="54.85" y="818.25" width="255.90" height="35.50" fill="none" stroke="#000" stroke-width="2.5"/>
<rect x="56" y="863.5" width="253.5" height="35" fill="#eeeeee"/>
<path d="M61.6,878.6 L63.1,877.9 L64.6,877.6 L66.2,877.5 L67.7,877.5 L69.2,877.5 L70.7,877.5 L72.2,877.5 L73.7,877.5 L75.2,877.5 L76.8,877.5 L78.3,877.5 L79.8,877.5 L81.3,877.5 L82.8,877.5 L84.3,877.5 L85.9,877.5 L87.4,877.5 L88.9,877.5 L90.4,877.5 L91.9,877.5 L93.5,877.5 L95.0,877.6 L96.5,877.9 L98.0,878.6 L98.0,882.0 L96.5,882.7 L95.0,883.0 L93.5,883.1 L91.9,883.1 L90.4,883.1 L88.9,883.1 L87.4,883.1 L85.9,883.1 L84.3,883.1 L82.8,883.1 L81.3,883.1 L79.8,883.1 L78.3,883.1 L76.8,883.1 L75.2,883.1 L73.7,883.1 L72.2,883.1 L70.7,883.1 L69.2,883.1 L67.7,883.1 L66.2,883.1 L64.6,883.0 L63.1,882.7 L61.6,882.0Z" fill="#000" fill-opacity="1.0" filter="url(#b1)"/>
<path d="M107.0,878.6 L108.4,878.0 L109.8,877.7 L111.2,877.5 L112.7,877.5 L114.1,877.5 L115.5,877.5 L116.9,877.5 L118.3,877.5 L119.8,877.5 L121.2,877.5 L122.6,877.5 L124.0,877.5 L125.4,877.5 L126.8,877.5 L128.2,877.5 L129.7,877.5 L131.1,877.5 L132.5,877.5 L133.9,877.5 L135.3,877.5 L136.8,877.5 L138.2,877.7 L139.6,878.0 L141.0,878.6 L141.0,882.0 L139.6,882.6 L138.2,882.9 L136.8,883.0 L135.3,883.0 L133.9,883.0 L132.5,883.0 L131.1,883.0 L129.7,883.0 L128.2,883.0 L126.8,883.0 L125.4,883.0 L124.0,883.0 L122.6,883.0 L121.2,883.0 L119.8,883.0 L118.3,883.0 L116.9,883.0 L115.5,883.0 L114.1,883.0 L112.7,883.0 L111.2,883.0 L109.8,882.9 L108.4,882.6 L107.0,881.9Z" fill="#000" fill-opacity="1.0" filter="url(#b1)"/>
<path d="M149.0,878.9 L150.4,878.2 L151.8,877.9 L153.2,877.7 L154.7,877.7 L156.1,877.7 L157.5,877.6 L158.9,877.6 L160.3,877.6 L161.8,877.5 L163.2,877.5 L164.6,877.5 L166.0,877.4 L167.4,877.4 L168.8,877.4 L170.2,877.4 L171.7,877.3 L173.1,877.3 L174.5,877.3 L175.9,877.2 L177.3,877.2 L178.8,877.2 L180.2,877.3 L181.6,877.5 L183.0,878.2 L183.0,881.4 L181.6,882.1 L180.2,882.4 L178.8,882.6 L177.3,882.6 L175.9,882.6 L174.5,882.7 L173.1,882.7 L171.7,882.7 L170.2,882.8 L168.8,882.8 L167.4,882.8 L166.0,882.9 L164.6,882.9 L163.2,882.9 L161.8,882.9 L160.3,883.0 L158.9,883.0 L157.5,883.0 L156.1,883.1 L154.7,883.1 L153.2,883.1 L151.8,883.0 L150.4,882.8 L149.0,882.1Z" fill="url(#g16)" filter="url(#b1)"/>
<path d="M190.6,878.1 L192.1,877.4 L193.5,877.1 L195.0,877.0 L196.5,877.0 L198.0,877.0 L199.4,877.1 L200.9,877.3 L202.4,877.4 L203.9,877.5 L205.3,877.5 L206.8,877.4 L208.3,877.3 L209.8,877.1 L211.2,877.0 L212.7,876.9 L214.2,876.9 L215.7,876.9 L217.2,876.9 L218.6,876.8 L220.1,876.8 L221.6,876.8 L223.1,876.9 L224.5,877.2 L226.0,877.9 L226.0,881.3 L224.5,882.0 L223.1,882.3 L221.6,882.4 L220.1,882.4 L218.6,882.4 L217.2,882.5 L215.7,882.5 L214.2,882.5 L212.7,882.5 L211.2,882.6 L209.8,882.7 L208.3,882.9 L206.8,883.0 L205.3,883.1 L203.9,883.1 L202.4,883.0 L200.9,882.9 L199.4,882.7 L198.0,882.6 L196.5,882.6 L195.0,882.6 L193.5,882.5 L192.1,882.2 L190.6,881.5Z" fill="#000" fill-opacity="1.0" filter="url(#b1)"/>
<path d="M233.0,877.8 L234.4,877.2 L235.8,876.9 L237.1,876.8 L238.5,876.8 L239.9,876.8 L241.2,876.8 L242.6,876.8 L244.0,876.8 L245.4,876.8 L246.8,876.8 L248.1,876.8 L249.5,876.8 L250.9,876.8 L252.2,876.8 L253.6,876.8 L255.0,876.8 L256.4,876.8 L257.8,876.8 L259.1,876.8 L260.5,876.8 L261.9,876.8 L263.2,876.9 L264.6,877.2 L266.0,877.8 L266.0,881.0 L264.6,881.6 L263.2,881.9 L261.9,882.0 L260.5,882.0 L259.1,882.0 L257.8,882.0 L256.4,882.0 L255.0,882.0 L253.6,882.0 L252.2,882.0 L250.9,882.0 L249.5,882.0 L248.1,882.0 L246.8,882.0 L245.4,882.0 L244.0,882.0 L242.6,882.0 L241.2,882.0 L239.9,882.0 L238.5,882.0 L237.1,882.0 L235.8,881.9 L234.4,881.6 L233.0,881.0Z" fill="#000" fill-opacity="1.0" filter="url(#b1)"/>
<path d="M275.0,878.8 L276.3,878.2 L277.7,877.9 L279.0,877.8 L280.3,877.8 L281.7,877.7 L283.0,877.7 L284.3,877.7 L285.7,877.6 L287.0,877.6 L288.3,877.6 L289.7,877.5 L291.0,877.5 L292.3,877.5 L293.7,877.4 L295.0,877.4 L296.3,877.4 L297.7,877.3 L299.0,877.3 L300.3,877.3 L301.7,877.2 L303.0,877.2 L304.3,877.3 L305.7,877.5 L307.0,878.0 L307.0,880.8 L305.7,881.4 L304.3,881.7 L303.0,881.8 L301.7,881.8 L300.3,881.9 L299.0,881.9 L297.7,881.9 L296.3,882.0 L295.0,882.0 L293.7,882.0 L292.3,882.1 L291.0,882.1 L289.7,882.1 L288.3,882.2 L287.0,882.2 L285.7,882.2 L284.3,882.3 L283.0,882.3 L281.7,882.3 L280.3,882.4 L279.0,882.4 L277.7,882.3 L276.3,882.1 L275.0,881.6Z" fill="url(#g17)" filter="url(#b1)"/>
<rect x="54.85" y="862.25" width="255.90" height="36.90" fill="none" stroke="#000" stroke-width="2.5"/>
<path d="M63.0,925.5 L64.5,925.4 L65.9,925.2 L67.4,925.1 L68.9,925.1 L70.3,925.1 L71.8,925.1 L73.3,925.1 L74.7,925.1 L76.2,925.1 L77.7,925.2 L79.1,925.2 L80.6,925.2 L82.1,925.2 L83.5,925.2 L85.0,925.2 L86.5,925.3 L87.9,925.3 L89.4,925.3 L90.9,925.3 L92.3,925.3 L93.8,925.4 L95.3,925.4 L96.7,925.4 L98.2,925.4 L99.7,925.4 L101.1,925.4 L102.6,925.5 L104.1,925.7 L105.5,925.8 L107.0,926.0 L107.0,930.5 L105.5,930.8 L104.1,931.2 L102.6,931.5 L101.1,931.9 L99.7,932.2 L98.2,932.5 L96.7,932.7 L95.3,933.0 L93.8,933.2 L92.3,933.4 L90.9,933.5 L89.4,933.6 L87.9,933.7 L86.5,933.7 L85.0,933.8 L83.5,933.7 L82.1,933.6 L80.6,933.5 L79.1,933.4 L77.7,933.2 L76.2,933.0 L74.7,932.7 L73.3,932.5 L71.8,932.2 L70.3,931.8 L68.9,931.5 L67.4,931.1 L65.9,930.8 L64.5,930.4 L63.0,930.0Z" fill="#000" fill-opacity="1.0" filter="url(#b1)"/>
<path d="M110.0,926.5 L111.2,926.3 L112.4,926.2 L113.6,926.0 L114.8,926.0 L116.0,926.0 L117.2,926.0 L118.4,926.0 L119.6,926.0 L120.8,926.0 L122.0,926.0 L123.2,926.0 L124.4,926.0 L125.6,926.0 L126.8,926.0 L128.0,926.0 L129.2,926.0 L130.4,926.0 L131.6,926.0 L132.8,926.0 L134.0,926.0 L135.2,926.0 L136.4,926.0 L137.6,926.0 L138.8,926.0 L140.0,926.0 L141.2,926.0 L142.4,926.0 L143.6,926.2 L144.8,926.3 L146.0,926.5 L146.0,931.0 L144.8,931.4 L143.6,931.7 L142.4,932.1 L141.2,932.4 L140.0,932.8 L138.8,933.1 L137.6,933.3 L136.4,933.6 L135.2,933.8 L134.0,934.0 L132.8,934.2 L131.6,934.3 L130.4,934.4 L129.2,934.5 L128.0,934.5 L126.8,934.5 L125.6,934.4 L124.4,934.3 L123.2,934.2 L122.0,934.0 L120.8,933.8 L119.6,933.6 L118.4,933.3 L117.2,933.1 L116.0,932.8 L114.8,932.4 L113.6,932.1 L112.4,931.7 L111.2,931.4 L110.0,931.0Z" fill="#000" fill-opacity="1.0" filter="url(#b1)"/>
<path d="M151.0,924.5 L152.2,924.3 L153.3,924.2 L154.5,924.0 L155.7,924.0 L156.8,924.0 L158.0,924.0 L159.2,924.0 L160.3,924.0 L161.5,924.0 L162.7,924.0 L163.8,924.0 L165.0,924.0 L166.2,924.0 L167.3,924.0 L168.5,924.0 L169.7,924.0 L170.8,924.0 L172.0,924.0 L173.2,924.0 L174.3,924.0 L175.5,924.0 L176.7,924.0 L177.8,924.0 L179.0,924.0 L180.2,924.0 L181.3,924.0 L182.5,924.0 L183.7,924.2 L184.8,924.3 L186.0,924.5 L186.0,929.0 L184.8,929.3 L183.7,929.6 L182.5,929.9 L181.3,930.2 L180.2,930.5 L179.0,930.8 L177.8,931.0 L176.7,931.2 L175.5,931.4 L174.3,931.6 L173.2,931.7 L172.0,931.9 L170.8,931.9 L169.7,932.0 L168.5,932.0 L167.3,932.0 L166.2,931.9 L165.0,931.9 L163.8,931.7 L162.7,931.6 L161.5,931.4 L160.3,931.2 L159.2,931.0 L158.0,930.8 L156.8,930.5 L155.7,930.2 L154.5,929.9 L153.3,929.6 L152.2,929.3 L151.0,929.0Z" fill="#000" fill-opacity="1.0" filter="url(#b1)"/>
<path d="M192.0,926.0 L193.2,925.8 L194.5,925.7 L195.7,925.5 L196.9,925.5 L198.2,925.5 L199.4,925.5 L200.6,925.5 L201.9,925.5 L203.1,925.5 L204.3,925.5 L205.6,925.5 L206.8,925.5 L208.0,925.5 L209.3,925.5 L210.5,925.5 L211.7,925.5 L213.0,925.5 L214.2,925.5 L215.4,925.5 L216.7,925.5 L217.9,925.5 L219.1,925.5 L220.4,925.5 L221.6,925.5 L222.8,925.5 L224.1,925.5 L225.3,925.5 L226.5,925.7 L227.8,925.8 L229.0,926.0 L229.0,930.5 L227.8,930.8 L226.5,931.0 L225.3,931.3 L224.1,931.5 L222.8,931.8 L221.6,932.0 L220.4,932.2 L219.1,932.4 L217.9,932.5 L216.7,932.7 L215.4,932.8 L214.2,932.9 L213.0,932.9 L211.7,933.0 L210.5,933.0 L209.3,933.0 L208.0,932.9 L206.8,932.9 L205.6,932.8 L204.3,932.7 L203.1,932.5 L201.9,932.4 L200.6,932.2 L199.4,932.0 L198.2,931.8 L196.9,931.5 L195.7,931.3 L194.5,931.0 L193.2,930.8 L192.0,930.5Z" fill="#000" fill-opacity="1.0" filter="url(#b1)"/>
<path d="M234.0,925.5 L235.1,925.3 L236.2,925.2 L237.3,925.0 L238.4,924.9 L239.5,924.9 L240.6,924.9 L241.7,924.9 L242.8,924.9 L243.9,924.9 L245.0,924.8 L246.1,924.8 L247.2,924.8 L248.3,924.8 L249.4,924.8 L250.5,924.8 L251.6,924.7 L252.7,924.7 L253.8,924.7 L254.9,924.7 L256.0,924.7 L257.1,924.6 L258.2,924.6 L259.3,924.6 L260.4,924.6 L261.5,924.6 L262.6,924.6 L263.7,924.6 L264.8,924.7 L265.9,924.9 L267.0,925.0 L267.0,929.5 L265.9,929.8 L264.8,930.2 L263.7,930.5 L262.6,930.8 L261.5,931.1 L260.4,931.4 L259.3,931.6 L258.2,931.9 L257.1,932.1 L256.0,932.3 L254.9,932.4 L253.8,932.6 L252.7,932.7 L251.6,932.7 L250.5,932.8 L249.4,932.8 L248.3,932.7 L247.2,932.7 L246.1,932.6 L245.0,932.4 L243.9,932.3 L242.8,932.1 L241.7,931.9 L240.6,931.7 L239.5,931.4 L238.4,931.2 L237.3,930.9 L236.2,930.6 L235.1,930.3 L234.0,930.0Z" fill="#000" fill-opacity="1.0" filter="url(#b1)"/>
<path d="M273.0,923.5 L274.1,923.3 L275.3,923.1 L276.4,922.9 L277.5,922.9 L278.7,922.8 L279.8,922.8 L280.9,922.8 L282.1,922.7 L283.2,922.7 L284.3,922.7 L285.5,922.6 L286.6,922.6 L287.7,922.6 L288.9,922.5 L290.0,922.5 L291.1,922.5 L292.3,922.4 L293.4,922.4 L294.5,922.4 L295.7,922.3 L296.8,922.3 L297.9,922.3 L299.1,922.2 L300.2,922.2 L301.3,922.2 L302.5,922.1 L303.6,922.1 L304.7,922.3 L305.9,922.4 L307.0,922.5 L307.0,927.0 L305.9,927.3 L304.7,927.6 L303.6,927.9 L302.5,928.2 L301.3,928.4 L300.2,928.7 L299.1,928.9 L297.9,929.1 L296.8,929.3 L295.7,929.5 L294.5,929.7 L293.4,929.8 L292.3,929.9 L291.1,930.0 L290.0,930.0 L288.9,930.0 L287.7,930.0 L286.6,930.0 L285.5,929.9 L284.3,929.8 L283.2,929.7 L282.1,929.6 L280.9,929.4 L279.8,929.3 L278.7,929.1 L277.5,928.9 L276.4,928.7 L275.3,928.5 L274.1,928.2 L273.0,928.0Z" fill="#000" fill-opacity="1.0" filter="url(#b1)"/>
<rect x="55.65" y="906.85" width="255.10" height="36.50" fill="none" stroke="#000" stroke-width="2.5"/>
<rect x="63.60" y="806.60" width="34.00" height="2.80" fill="#000"/>
<rect x="105.40" y="806.60" width="36.60" height="2.80" fill="#000"/>
<rect x="146.00" y="806.60" width="35.60" height="2.80" fill="#000"/>
<rect x="186.60" y="806.60" width="32.00" height="2.80" fill="#000"/>
<rect x="227.40" y="806.60" width="30.60" height="2.80" fill="#000"/>
<rect x="271.40" y="806.60" width="31.60" height="2.80" fill="#000"/>
<rect x="173.40" y="325.00" width="41.20" height="115.00" fill="#404040"/>
<line x1="194.00" y1="309.70" x2="194.00" y2="325.00" stroke="#1a1a1a" stroke-width="1.6"/>
<line x1="190.20" y1="309.70" x2="197.80" y2="309.70" stroke="#1a1a1a" stroke-width="1.6"/>
<rect x="220.40" y="310.00" width="40.60" height="130.00" fill="#8f8f8f"/>
<line x1="236.90" y1="310.60" x2="244.50" y2="310.60" stroke="#1a1a1a" stroke-width="1.6"/>
<rect x="279.00" y="382.00" width="41.00" height="58.00" fill="#404040"/>
<line x1="299.50" y1="380.40" x2="299.50" y2="382.00" stroke="#1a1a1a" stroke-width="1.6"/>
<line x1="295.70" y1="380.40" x2="303.30" y2="380.40" stroke="#1a1a1a" stroke-width="1.6"/>
<rect x="325.40" y="333.00" width="41.00" height="107.00" fill="#8f8f8f"/>
<line x1="345.90" y1="317.20" x2="345.90" y2="333.00" stroke="#1a1a1a" stroke-width="1.6"/>
<line x1="342.10" y1="317.20" x2="349.70" y2="317.20" stroke="#1a1a1a" stroke-width="1.6"/>
<rect x="384.00" y="409.00" width="42.40" height="31.00" fill="#404040"/>
<line x1="405.20" y1="406.20" x2="405.20" y2="409.00" stroke="#1a1a1a" stroke-width="1.6"/>
<line x1="401.40" y1="406.20" x2="409.00" y2="406.20" stroke="#1a1a1a" stroke-width="1.6"/>
<rect x="430.40" y="360.00" width="42.60" height="80.00" fill="#8f8f8f"/>
<line x1="451.70" y1="354.70" x2="451.70" y2="360.00" stroke="#1a1a1a" stroke-width="1.6"/>
<line x1="447.90" y1="354.70" x2="455.50" y2="354.70" stroke="#1a1a1a" stroke-width="1.6"/>
<rect x="489.40" y="419.00" width="42.60" height="21.00" fill="#404040"/>
<line x1="510.70" y1="411.80" x2="510.70" y2="419.00" stroke="#1a1a1a" stroke-width="1.6"/>
<line x1="506.90" y1="411.80" x2="514.50" y2="411.80" stroke="#1a1a1a" stroke-width="1.6"/>
<rect x="536.00" y="364.00" width="42.00" height="76.00" fill="#8f8f8f"/>
<line x1="557.00" y1="343.80" x2="557.00" y2="364.00" stroke="#1a1a1a" stroke-width="1.6"/>
<line x1="553.20" y1="343.80" x2="560.80" y2="343.80" stroke="#1a1a1a" stroke-width="1.6"/>
<line x1="164.00" y1="294.00" x2="164.00" y2="441.00" stroke="#262626" stroke-width="1.6"/>
<line x1="160.00" y1="294.40" x2="164.00" y2="294.40" stroke="#262626" stroke-width="1.4"/>
<line x1="160.00" y1="331.00" x2="164.00" y2="331.00" stroke="#262626" stroke-width="1.4"/>
<line x1="160.00" y1="367.20" x2="164.00" y2="367.20" stroke="#262626" stroke-width="1.4"/>
<line x1="160.00" y1="403.40" x2="164.00" y2="403.40" stroke="#262626" stroke-width="1.4"/>
<line x1="160.00" y1="439.60" x2="164.00" y2="439.60" stroke="#262626" stroke-width="1.4"/>
<line x1="163.20" y1="440.00" x2="587.30" y2="440.00" stroke="#262626" stroke-width="1.8"/>
<line x1="270.00" y1="436.00" x2="270.00" y2="440.00" stroke="#262626" stroke-width="1.3"/>
<line x1="375.50" y1="436.00" x2="375.50" y2="440.00" stroke="#262626" stroke-width="1.3"/>
<line x1="481.00" y1="436.00" x2="481.00" y2="440.00" stroke="#262626" stroke-width="1.3"/>
<line x1="586.50" y1="436.00" x2="586.50" y2="440.00" stroke="#262626" stroke-width="1.3"/>
<path d="M195.4,302 V282.2 H286.2 V372" fill="none" stroke="#000" stroke-width="2.3"/>
<rect x="505.60" y="293.00" width="13.80" height="13.40" fill="#404040"/>
<rect x="505.60" y="311.40" width="13.80" height="12.60" fill="#8f8f8f"/>
<rect x="187.60" y="466.20" width="156.00" height="2.70" fill="#000"/>
<rect x="406.40" y="466.20" width="148.60" height="2.70" fill="#000"/>
<rect x="138.60" y="698.60" width="11.30" height="31.80" fill="#a6a6a6"/>
<line x1="144.25" y1="694.00" x2="144.25" y2="698.60" stroke="#000" stroke-width="1.5"/>
<line x1="140.95" y1="694.00" x2="147.55" y2="694.00" stroke="#000" stroke-width="1.6"/>
<rect x="150.10" y="695.00" width="11.30" height="35.40" fill="#000"/>
<line x1="155.75" y1="689.00" x2="155.75" y2="695.00" stroke="#000" stroke-width="1.5"/>
<line x1="152.45" y1="689.00" x2="159.05" y2="689.00" stroke="#000" stroke-width="1.6"/>
<rect x="164.46" y="712.60" width="11.30" height="17.80" fill="#a6a6a6"/>
<line x1="170.11" y1="706.60" x2="170.11" y2="712.60" stroke="#000" stroke-width="1.5"/>
<line x1="166.81" y1="706.60" x2="173.41" y2="706.60" stroke="#000" stroke-width="1.6"/>
<rect x="175.96" y="709.00" width="11.30" height="21.40" fill="#000"/>
<line x1="181.61" y1="700.40" x2="181.61" y2="709.00" stroke="#000" stroke-width="1.5"/>
<line x1="178.31" y1="700.40" x2="184.91" y2="700.40" stroke="#000" stroke-width="1.6"/>
<rect x="190.32" y="727.20" width="11.30" height="3.20" fill="#a6a6a6"/>
<line x1="195.97" y1="726.20" x2="195.97" y2="727.20" stroke="#000" stroke-width="1.5"/>
<line x1="192.67" y1="726.20" x2="199.27" y2="726.20" stroke="#000" stroke-width="1.6"/>
<rect x="201.82" y="727.00" width="11.30" height="3.40" fill="#000"/>
<line x1="204.17" y1="726.20" x2="210.77" y2="726.20" stroke="#000" stroke-width="1.6"/>
<rect x="216.18" y="704.00" width="11.30" height="26.40" fill="#a6a6a6"/>
<line x1="221.83" y1="698.00" x2="221.83" y2="704.00" stroke="#000" stroke-width="1.5"/>
<line x1="218.53" y1="698.00" x2="225.13" y2="698.00" stroke="#000" stroke-width="1.6"/>
<rect x="227.68" y="704.00" width="11.30" height="26.40" fill="#000"/>
<line x1="233.33" y1="696.60" x2="233.33" y2="704.00" stroke="#000" stroke-width="1.5"/>
<line x1="230.03" y1="696.60" x2="236.63" y2="696.60" stroke="#000" stroke-width="1.6"/>
<rect x="242.04" y="729.20" width="11.30" height="1.20" fill="#a6a6a6"/>
<line x1="244.39" y1="729.00" x2="250.99" y2="729.00" stroke="#000" stroke-width="1.6"/>
<rect x="253.54" y="729.20" width="11.30" height="1.20" fill="#000"/>
<line x1="255.89" y1="729.00" x2="262.49" y2="729.00" stroke="#000" stroke-width="1.6"/>
<rect x="267.90" y="723.60" width="11.30" height="6.80" fill="#a6a6a6"/>
<line x1="273.55" y1="721.60" x2="273.55" y2="723.60" stroke="#000" stroke-width="1.5"/>
<line x1="270.25" y1="721.60" x2="276.85" y2="721.60" stroke="#000" stroke-width="1.6"/>
<rect x="279.40" y="724.00" width="11.30" height="6.40" fill="#000"/>
<line x1="285.05" y1="720.40" x2="285.05" y2="724.00" stroke="#000" stroke-width="1.5"/>
<line x1="281.75" y1="720.40" x2="288.35" y2="720.40" stroke="#000" stroke-width="1.6"/>
<rect x="293.76" y="697.60" width="11.30" height="32.80" fill="#a6a6a6"/>
<line x1="299.41" y1="688.00" x2="299.41" y2="697.60" stroke="#000" stroke-width="1.5"/>
<line x1="296.11" y1="688.00" x2="302.71" y2="688.00" stroke="#000" stroke-width="1.6"/>
<rect x="305.26" y="702.60" width="11.30" height="27.80" fill="#000"/>
<line x1="310.91" y1="699.40" x2="310.91" y2="702.60" stroke="#000" stroke-width="1.5"/>
<line x1="307.61" y1="699.40" x2="314.21" y2="699.40" stroke="#000" stroke-width="1.6"/>
<rect x="319.62" y="568.40" width="11.30" height="162.00" fill="#a6a6a6"/>
<line x1="325.27" y1="556.40" x2="325.27" y2="568.40" stroke="#000" stroke-width="1.5"/>
<line x1="321.97" y1="556.40" x2="328.57" y2="556.40" stroke="#000" stroke-width="1.6"/>
<rect x="331.12" y="558.40" width="11.30" height="172.00" fill="#000"/>
<line x1="336.77" y1="550.00" x2="336.77" y2="558.40" stroke="#000" stroke-width="1.5"/>
<line x1="333.47" y1="550.00" x2="340.07" y2="550.00" stroke="#000" stroke-width="1.6"/>
<rect x="345.48" y="667.40" width="11.30" height="63.00" fill="#a6a6a6"/>
<line x1="351.13" y1="659.40" x2="351.13" y2="667.40" stroke="#000" stroke-width="1.5"/>
<line x1="347.83" y1="659.40" x2="354.43" y2="659.40" stroke="#000" stroke-width="1.6"/>
<rect x="356.98" y="638.60" width="11.30" height="91.80" fill="#000"/>
<line x1="362.63" y1="629.00" x2="362.63" y2="638.60" stroke="#000" stroke-width="1.5"/>
<line x1="359.33" y1="629.00" x2="365.93" y2="629.00" stroke="#000" stroke-width="1.6"/>
<rect x="371.34" y="722.40" width="11.30" height="8.00" fill="#a6a6a6"/>
<line x1="376.99" y1="720.60" x2="376.99" y2="722.40" stroke="#000" stroke-width="1.5"/>
<line x1="373.69" y1="720.60" x2="380.29" y2="720.60" stroke="#000" stroke-width="1.6"/>
<rect x="382.84" y="720.00" width="11.30" height="10.40" fill="#000"/>
<line x1="388.49" y1="717.60" x2="388.49" y2="720.00" stroke="#000" stroke-width="1.5"/>
<line x1="385.19" y1="717.60" x2="391.79" y2="717.60" stroke="#000" stroke-width="1.6"/>
<rect x="397.20" y="720.00" width="11.30" height="10.40" fill="#a6a6a6"/>
<line x1="402.85" y1="718.00" x2="402.85" y2="720.00" stroke="#000" stroke-width="1.5"/>
<line x1="399.55" y1="718.00" x2="406.15" y2="718.00" stroke="#000" stroke-width="1.6"/>
<rect x="408.70" y="719.00" width="11.30" height="11.40" fill="#000"/>
<line x1="414.35" y1="715.60" x2="414.35" y2="719.00" stroke="#000" stroke-width="1.5"/>
<line x1="411.05" y1="715.60" x2="417.65" y2="715.60" stroke="#000" stroke-width="1.6"/>
<rect x="423.06" y="704.00" width="11.30" height="26.40" fill="#a6a6a6"/>
<line x1="428.71" y1="698.00" x2="428.71" y2="704.00" stroke="#000" stroke-width="1.5"/>
<line x1="425.41" y1="698.00" x2="432.01" y2="698.00" stroke="#000" stroke-width="1.6"/>
<rect x="434.56" y="699.00" width="11.30" height="31.40" fill="#000"/>
<line x1="440.21" y1="686.60" x2="440.21" y2="699.00" stroke="#000" stroke-width="1.5"/>
<line x1="436.91" y1="686.60" x2="443.51" y2="686.60" stroke="#000" stroke-width="1.6"/>
<rect x="448.92" y="696.40" width="11.30" height="34.00" fill="#a6a6a6"/>
<line x1="454.57" y1="688.00" x2="454.57" y2="696.40" stroke="#000" stroke-width="1.5"/>
<line x1="451.27" y1="688.00" x2="457.87" y2="688.00" stroke="#000" stroke-width="1.6"/>
<rect x="460.42" y="692.60" width="11.30" height="37.80" fill="#000"/>
<line x1="466.07" y1="677.60" x2="466.07" y2="692.60" stroke="#000" stroke-width="1.5"/>
<line x1="462.77" y1="677.60" x2="469.37" y2="677.60" stroke="#000" stroke-width="1.6"/>
<rect x="474.78" y="725.00" width="11.30" height="5.40" fill="#a6a6a6"/>
<line x1="480.43" y1="723.00" x2="480.43" y2="725.00" stroke="#000" stroke-width="1.5"/>
<line x1="477.13" y1="723.00" x2="483.73" y2="723.00" stroke="#000" stroke-width="1.6"/>
<rect x="486.28" y="724.00" width="11.30" height="6.40" fill="#000"/>
<line x1="491.93" y1="721.60" x2="491.93" y2="724.00" stroke="#000" stroke-width="1.5"/>
<line x1="488.63" y1="721.60" x2="495.23" y2="721.60" stroke="#000" stroke-width="1.6"/>
<rect x="500.64" y="720.00" width="11.30" height="10.40" fill="#a6a6a6"/>
<line x1="506.29" y1="718.00" x2="506.29" y2="720.00" stroke="#000" stroke-width="1.5"/>
<line x1="502.99" y1="718.00" x2="509.59" y2="718.00" stroke="#000" stroke-width="1.6"/>
<rect x="512.14" y="719.00" width="11.30" height="11.40" fill="#000"/>
<line x1="517.79" y1="714.40" x2="517.79" y2="719.00" stroke="#000" stroke-width="1.5"/>
<line x1="514.49" y1="714.40" x2="521.09" y2="714.40" stroke="#000" stroke-width="1.6"/>
<rect x="526.50" y="695.00" width="11.30" height="35.40" fill="#a6a6a6"/>
<line x1="532.15" y1="689.00" x2="532.15" y2="695.00" stroke="#000" stroke-width="1.5"/>
<line x1="528.85" y1="689.00" x2="535.45" y2="689.00" stroke="#000" stroke-width="1.6"/>
<rect x="538.00" y="690.00" width="11.30" height="40.40" fill="#000"/>
<line x1="543.65" y1="681.60" x2="543.65" y2="690.00" stroke="#000" stroke-width="1.5"/>
<line x1="540.35" y1="681.60" x2="546.95" y2="681.60" stroke="#000" stroke-width="1.6"/>
<rect x="552.36" y="709.00" width="11.30" height="21.40" fill="#a6a6a6"/>
<line x1="558.01" y1="706.60" x2="558.01" y2="709.00" stroke="#000" stroke-width="1.5"/>
<line x1="554.71" y1="706.60" x2="561.31" y2="706.60" stroke="#000" stroke-width="1.6"/>
<rect x="563.86" y="705.00" width="11.30" height="25.40" fill="#000"/>
<line x1="569.51" y1="698.00" x2="569.51" y2="705.00" stroke="#000" stroke-width="1.5"/>
<line x1="566.21" y1="698.00" x2="572.81" y2="698.00" stroke="#000" stroke-width="1.6"/>
<rect x="578.22" y="707.60" width="11.30" height="22.80" fill="#a6a6a6"/>
<line x1="583.87" y1="704.40" x2="583.87" y2="707.60" stroke="#000" stroke-width="1.5"/>
<line x1="580.57" y1="704.40" x2="587.17" y2="704.40" stroke="#000" stroke-width="1.6"/>
<rect x="589.72" y="704.00" width="11.30" height="26.40" fill="#000"/>
<line x1="595.37" y1="697.60" x2="595.37" y2="704.00" stroke="#000" stroke-width="1.5"/>
<line x1="592.07" y1="697.60" x2="598.67" y2="697.60" stroke="#000" stroke-width="1.6"/>
<rect x="604.08" y="725.60" width="11.30" height="4.80" fill="#a6a6a6"/>
<line x1="606.43" y1="725.20" x2="613.03" y2="725.20" stroke="#000" stroke-width="1.6"/>
<rect x="615.58" y="724.40" width="11.30" height="6.00" fill="#000"/>
<line x1="617.93" y1="724.00" x2="624.53" y2="724.00" stroke="#000" stroke-width="1.6"/>
<rect x="629.94" y="716.00" width="11.30" height="14.40" fill="#a6a6a6"/>
<line x1="635.59" y1="713.00" x2="635.59" y2="716.00" stroke="#000" stroke-width="1.5"/>
<line x1="632.29" y1="713.00" x2="638.89" y2="713.00" stroke="#000" stroke-width="1.6"/>
<rect x="641.44" y="714.00" width="11.30" height="16.40" fill="#000"/>
<line x1="647.09" y1="709.40" x2="647.09" y2="714.00" stroke="#000" stroke-width="1.5"/>
<line x1="643.79" y1="709.40" x2="650.39" y2="709.40" stroke="#000" stroke-width="1.6"/>
<rect x="655.80" y="717.00" width="11.30" height="13.40" fill="#a6a6a6"/>
<line x1="661.45" y1="715.60" x2="661.45" y2="717.00" stroke="#000" stroke-width="1.5"/>
<line x1="658.15" y1="715.60" x2="664.75" y2="715.60" stroke="#000" stroke-width="1.6"/>
<rect x="667.30" y="715.00" width="11.30" height="15.40" fill="#000"/>
<line x1="672.95" y1="709.00" x2="672.95" y2="715.00" stroke="#000" stroke-width="1.5"/>
<line x1="669.65" y1="709.00" x2="676.25" y2="709.00" stroke="#000" stroke-width="1.6"/>
<line x1="137.30" y1="496.00" x2="137.30" y2="731.20" stroke="#000" stroke-width="1.5"/>
<line x1="134.00" y1="496.20" x2="137.30" y2="496.20" stroke="#000" stroke-width="1.4"/>
<line x1="134.00" y1="555.60" x2="137.30" y2="555.60" stroke="#000" stroke-width="1.4"/>
<line x1="134.00" y1="614.20" x2="137.30" y2="614.20" stroke="#000" stroke-width="1.4"/>
<line x1="134.00" y1="672.40" x2="137.30" y2="672.40" stroke="#000" stroke-width="1.4"/>
<line x1="134.00" y1="730.40" x2="137.30" y2="730.40" stroke="#000" stroke-width="1.4"/>
<line x1="136.60" y1="730.40" x2="680.40" y2="730.40" stroke="#000" stroke-width="1.6"/>
<rect x="494.00" y="516.00" width="8.60" height="8.40" fill="#a6a6a6"/>
<rect x="494.00" y="531.40" width="8.60" height="8.20" fill="#000"/>
<rect x="393.00" y="908.00" width="18.80" height="33.60" fill="#a6a6a6"/>
<line x1="402.40" y1="903.00" x2="402.40" y2="908.00" stroke="#000" stroke-width="1.6"/>
<line x1="398.20" y1="903.00" x2="406.60" y2="903.00" stroke="#000" stroke-width="1.6"/>
<rect x="414.40" y="815.60" width="18.80" height="126.00" fill="#000"/>
<line x1="423.80" y1="804.60" x2="423.80" y2="815.60" stroke="#000" stroke-width="1.6"/>
<line x1="419.60" y1="804.60" x2="428.00" y2="804.60" stroke="#000" stroke-width="1.6"/>
<rect x="440.40" y="893.40" width="18.80" height="48.20" fill="#a6a6a6"/>
<line x1="449.80" y1="883.40" x2="449.80" y2="893.40" stroke="#000" stroke-width="1.6"/>
<line x1="445.60" y1="883.40" x2="454.00" y2="883.40" stroke="#000" stroke-width="1.6"/>
<rect x="461.00" y="818.00" width="18.80" height="123.60" fill="#000"/>
<line x1="470.40" y1="812.00" x2="470.40" y2="818.00" stroke="#000" stroke-width="1.6"/>
<line x1="466.20" y1="812.00" x2="474.60" y2="812.00" stroke="#000" stroke-width="1.6"/>
<rect x="488.00" y="850.40" width="18.80" height="91.20" fill="#a6a6a6"/>
<line x1="497.40" y1="840.40" x2="497.40" y2="850.40" stroke="#000" stroke-width="1.6"/>
<line x1="493.20" y1="840.40" x2="501.60" y2="840.40" stroke="#000" stroke-width="1.6"/>
<rect x="508.40" y="819.00" width="18.80" height="122.60" fill="#000"/>
<line x1="517.80" y1="810.60" x2="517.80" y2="819.00" stroke="#000" stroke-width="1.6"/>
<line x1="513.60" y1="810.60" x2="522.00" y2="810.60" stroke="#000" stroke-width="1.6"/>
<rect x="534.60" y="828.00" width="18.80" height="113.60" fill="#a6a6a6"/>
<line x1="544.00" y1="814.40" x2="544.00" y2="828.00" stroke="#000" stroke-width="1.6"/>
<line x1="539.80" y1="814.40" x2="548.20" y2="814.40" stroke="#000" stroke-width="1.6"/>
<rect x="556.00" y="801.60" width="18.80" height="140.00" fill="#000"/>
<line x1="565.40" y1="789.40" x2="565.40" y2="801.60" stroke="#000" stroke-width="1.6"/>
<line x1="561.20" y1="789.40" x2="569.60" y2="789.40" stroke="#000" stroke-width="1.6"/>
<rect x="582.00" y="823.00" width="18.80" height="118.60" fill="#a6a6a6"/>
<line x1="591.40" y1="813.00" x2="591.40" y2="823.00" stroke="#000" stroke-width="1.6"/>
<line x1="587.20" y1="813.00" x2="595.60" y2="813.00" stroke="#000" stroke-width="1.6"/>
<rect x="603.60" y="803.00" width="18.80" height="138.60" fill="#000"/>
<line x1="613.00" y1="793.40" x2="613.00" y2="803.00" stroke="#000" stroke-width="1.6"/>
<line x1="608.80" y1="793.40" x2="617.20" y2="793.40" stroke="#000" stroke-width="1.6"/>
<rect x="630.00" y="835.20" width="18.80" height="106.40" fill="#a6a6a6"/>
<line x1="639.40" y1="827.20" x2="639.40" y2="835.20" stroke="#000" stroke-width="1.6"/>
<line x1="635.20" y1="827.20" x2="643.60" y2="827.20" stroke="#000" stroke-width="1.6"/>
<rect x="651.00" y="854.40" width="18.80" height="87.20" fill="#000"/>
<line x1="660.40" y1="847.00" x2="660.40" y2="854.40" stroke="#000" stroke-width="1.6"/>
<line x1="656.20" y1="847.00" x2="664.60" y2="847.00" stroke="#000" stroke-width="1.6"/>
<line x1="390.00" y1="782.00" x2="390.00" y2="942.30" stroke="#000" stroke-width="1.6"/>
<line x1="386.00" y1="782.40" x2="390.00" y2="782.40" stroke="#000" stroke-width="1.4"/>
<line x1="386.00" y1="822.20" x2="390.00" y2="822.20" stroke="#000" stroke-width="1.4"/>
<line x1="386.00" y1="862.00" x2="390.00" y2="862.00" stroke="#000" stroke-width="1.4"/>
<line x1="386.00" y1="901.80" x2="390.00" y2="901.80" stroke="#000" stroke-width="1.4"/>
<line x1="386.00" y1="941.60" x2="390.00" y2="941.60" stroke="#000" stroke-width="1.4"/>
<line x1="386.00" y1="941.60" x2="673.60" y2="941.60" stroke="#000" stroke-width="1.6"/>
<line x1="435.80" y1="938.00" x2="435.80" y2="941.60" stroke="#000" stroke-width="1.3"/>
<line x1="483.40" y1="938.00" x2="483.40" y2="941.60" stroke="#000" stroke-width="1.3"/>
<line x1="531.00" y1="938.00" x2="531.00" y2="941.60" stroke="#000" stroke-width="1.3"/>
<line x1="578.40" y1="938.00" x2="578.40" y2="941.60" stroke="#000" stroke-width="1.3"/>
<line x1="625.60" y1="938.00" x2="625.60" y2="941.60" stroke="#000" stroke-width="1.3"/>
<line x1="673.00" y1="938.00" x2="673.00" y2="941.60" stroke="#000" stroke-width="1.3"/>
<rect x="409.40" y="778.00" width="13.60" height="14.40" fill="#a6a6a6"/>
<rect x="492.00" y="778.00" width="13.60" height="14.40" fill="#000"/>
<text x="8.97" y="15.56" font-family='"Liberation Sans", sans-serif' font-size="22.04" font-weight="400" fill="#000" textLength="19.43" lengthAdjust="spacingAndGlyphs">a.</text>
<text x="55.98" y="30.63" font-family='"Liberation Serif", serif' font-size="19.60" font-weight="700" fill="#000" stroke="#000" stroke-width="0.3" textLength="101.30" lengthAdjust="spacingAndGlyphs">amino acids</text>
<text x="75.70" y="75.17" font-family='"Liberation Serif", serif' font-size="19.60" font-weight="700" fill="#000" stroke="#000" stroke-width="0.3" textLength="54.95" lengthAdjust="spacingAndGlyphs">VEGF</text>
<text x="186.15" y="30.12" font-family='"Liberation Sans", sans-serif' font-size="22.00" font-weight="400" fill="#000" textLength="13.08" lengthAdjust="spacingAndGlyphs">+</text>
<text x="245.15" y="30.52" font-family='"Liberation Sans", sans-serif' font-size="22.00" font-weight="400" fill="#000" textLength="13.08" lengthAdjust="spacingAndGlyphs">+</text>
<text x="301.45" y="30.52" font-family='"Liberation Sans", sans-serif' font-size="22.00" font-weight="400" fill="#000" textLength="13.08" lengthAdjust="spacingAndGlyphs">+</text>
<text x="356.15" y="31.72" font-family='"Liberation Sans", sans-serif' font-size="22.00" font-weight="400" fill="#000" textLength="13.08" lengthAdjust="spacingAndGlyphs">+</text>
<text x="425.17" y="30.94" font-family='"Liberation Sans", sans-serif' font-size="23.00" font-weight="400" fill="#000" textLength="7.77" lengthAdjust="spacingAndGlyphs">-</text>
<text x="480.37" y="30.44" font-family='"Liberation Sans", sans-serif' font-size="23.00" font-weight="400" fill="#000" textLength="7.77" lengthAdjust="spacingAndGlyphs">-</text>
<text x="536.57" y="30.74" font-family='"Liberation Sans", sans-serif' font-size="23.00" font-weight="400" fill="#000" textLength="7.77" lengthAdjust="spacingAndGlyphs">-</text>
<text x="590.37" y="31.74" font-family='"Liberation Sans", sans-serif' font-size="23.00" font-weight="400" fill="#000" textLength="7.77" lengthAdjust="spacingAndGlyphs">-</text>
<text x="187.05" y="73.12" font-family='"Liberation Sans", sans-serif' font-size="22.00" font-weight="400" fill="#000" textLength="13.08" lengthAdjust="spacingAndGlyphs">+</text>
<text x="245.15" y="72.12" font-family='"Liberation Sans", sans-serif' font-size="22.00" font-weight="400" fill="#000" textLength="13.08" lengthAdjust="spacingAndGlyphs">+</text>
<text x="303.47" y="72.84" font-family='"Liberation Sans", sans-serif' font-size="23.00" font-weight="400" fill="#000" textLength="7.77" lengthAdjust="spacingAndGlyphs">-</text>
<text x="358.47" y="71.44" font-family='"Liberation Sans", sans-serif' font-size="23.00" font-weight="400" fill="#000" textLength="7.77" lengthAdjust="spacingAndGlyphs">-</text>
<text x="421.05" y="73.72" font-family='"Liberation Sans", sans-serif' font-size="22.00" font-weight="400" fill="#000" textLength="13.08" lengthAdjust="spacingAndGlyphs">+</text>
<text x="477.85" y="72.52" font-family='"Liberation Sans", sans-serif' font-size="22.00" font-weight="400" fill="#000" textLength="13.08" lengthAdjust="spacingAndGlyphs">+</text>
<text x="537.37" y="69.74" font-family='"Liberation Sans", sans-serif' font-size="23.00" font-weight="400" fill="#000" textLength="7.77" lengthAdjust="spacingAndGlyphs">-</text>
<text x="593.17" y="69.74" font-family='"Liberation Sans", sans-serif' font-size="23.00" font-weight="400" fill="#000" textLength="7.77" lengthAdjust="spacingAndGlyphs">-</text>
<text x="99.69" y="124.97" font-family='"Liberation Serif", serif' font-size="19.60" font-weight="700" fill="#000" stroke="#000" stroke-width="0.3" textLength="39.62" lengthAdjust="spacingAndGlyphs">P-S6</text>
<text x="112.62" y="180.17" font-family='"Liberation Serif", serif' font-size="19.60" font-weight="700" fill="#000" stroke="#000" stroke-width="0.3" textLength="22.11" lengthAdjust="spacingAndGlyphs">S6</text>
<text x="77.29" y="234.49" font-family='"Liberation Serif", serif' font-size="19.60" font-weight="700" fill="#000" stroke="#000" stroke-width="0.3" textLength="59.29" lengthAdjust="spacingAndGlyphs">ß-actin</text>
<text x="125.15" y="300.74" font-family='"Liberation Serif", serif' font-size="14.50" font-weight="400" fill="#262626" textLength="20.00" lengthAdjust="spacingAndGlyphs">1.2</text>
<text x="126.53" y="337.74" font-family='"Liberation Serif", serif' font-size="14.50" font-weight="400" fill="#262626" textLength="18.95" lengthAdjust="spacingAndGlyphs">0.9</text>
<text x="126.53" y="373.74" font-family='"Liberation Serif", serif' font-size="14.50" font-weight="400" fill="#262626" textLength="18.70" lengthAdjust="spacingAndGlyphs">0.6</text>
<text x="126.53" y="409.74" font-family='"Liberation Serif", serif' font-size="14.50" font-weight="400" fill="#262626" textLength="18.95" lengthAdjust="spacingAndGlyphs">0.3</text>
<text x="137.50" y="446.74" font-family='"Liberation Serif", serif' font-size="14.50" font-weight="400" fill="#262626" textLength="8.00" lengthAdjust="spacingAndGlyphs">0</text>
<text x="0.00" y="0.00" transform="translate(112.91,435.27) rotate(-90)" font-family='"Liberation Serif", serif' font-size="17.40" font-weight="700" fill="#000" stroke="#000" stroke-width="0.3" textLength="136.43" lengthAdjust="spacingAndGlyphs">Relative to ß-actin</text>
<text x="235.36" y="301.08" font-family='"Liberation Serif", serif' font-size="19.46" font-weight="700" fill="#000" stroke="#000" stroke-width="0.3" textLength="10.29" lengthAdjust="spacingAndGlyphs">*</text>
<text x="530.49" y="305.28" font-family='"Liberation Serif", serif' font-size="15.30" font-weight="400" fill="#1a1a1a" textLength="29.47" lengthAdjust="spacingAndGlyphs">P-S6</text>
<text x="530.04" y="323.28" font-family='"Liberation Serif", serif' font-size="15.30" font-weight="400" fill="#1a1a1a" textLength="16.20" lengthAdjust="spacingAndGlyphs">S6</text>
<text x="201.89" y="465.19" font-family='"Liberation Serif", serif' font-size="14.00" font-weight="700" fill="#000" stroke="#000" stroke-width="0.3" textLength="29.75" lengthAdjust="spacingAndGlyphs">+VE</text>
<text x="309.51" y="465.19" font-family='"Liberation Serif", serif' font-size="14.00" font-weight="700" fill="#000" stroke="#000" stroke-width="0.3" textLength="26.74" lengthAdjust="spacingAndGlyphs">-VE</text>
<text x="413.69" y="465.19" font-family='"Liberation Serif", serif' font-size="14.00" font-weight="700" fill="#000" stroke="#000" stroke-width="0.3" textLength="29.54" lengthAdjust="spacingAndGlyphs">+VE</text>
<text x="520.53" y="465.19" font-family='"Liberation Serif", serif' font-size="14.00" font-weight="700" fill="#000" stroke="#000" stroke-width="0.3" textLength="26.11" lengthAdjust="spacingAndGlyphs">-VE</text>
<text x="233.60" y="485.78" font-family='"Liberation Serif", serif' font-size="19.60" font-weight="700" fill="#000" stroke="#000" stroke-width="0.3" textLength="60.80" lengthAdjust="spacingAndGlyphs">with aa</text>
<text x="439.00" y="487.78" font-family='"Liberation Serif", serif' font-size="19.60" font-weight="700" fill="#000" stroke="#000" stroke-width="0.3" textLength="89.00" lengthAdjust="spacingAndGlyphs">without aa</text>
<text x="20.36" y="482.96" font-family='"Liberation Sans", sans-serif' font-size="21.87" font-weight="400" fill="#000" textLength="19.22" lengthAdjust="spacingAndGlyphs">b.</text>
<text x="100.53" y="503.81" font-family='"Liberation Serif", serif' font-size="14.00" font-weight="700" fill="#000" stroke="#000" stroke-width="0.3" textLength="18.91" lengthAdjust="spacingAndGlyphs">0.4</text>
<text x="100.52" y="561.91" font-family='"Liberation Serif", serif' font-size="14.00" font-weight="700" fill="#000" stroke="#000" stroke-width="0.3" textLength="19.16" lengthAdjust="spacingAndGlyphs">0.3</text>
<text x="100.52" y="620.41" font-family='"Liberation Serif", serif' font-size="14.00" font-weight="700" fill="#000" stroke="#000" stroke-width="0.3" textLength="19.16" lengthAdjust="spacingAndGlyphs">0.2</text>
<text x="100.51" y="679.41" font-family='"Liberation Serif", serif' font-size="14.00" font-weight="700" fill="#000" stroke="#000" stroke-width="0.3" textLength="19.41" lengthAdjust="spacingAndGlyphs">0.1</text>
<text x="111.93" y="737.41" font-family='"Liberation Serif", serif' font-size="14.00" font-weight="700" fill="#000" stroke="#000" stroke-width="0.3" textLength="7.54" lengthAdjust="spacingAndGlyphs">0</text>
<text x="0.00" y="0.00" transform="translate(87.23,712.00) rotate(-90)" font-family='"Liberation Serif", serif' font-size="17.40" font-weight="700" fill="#000" stroke="#000" stroke-width="0.3" textLength="196.63" lengthAdjust="spacingAndGlyphs">Amino acid(10-13mol/cell)</text>
<text x="358.39" y="629.76" font-family='"Liberation Serif", serif' font-size="20.48" font-weight="700" fill="#000" stroke="#000" stroke-width="0.3" textLength="9.83" lengthAdjust="spacingAndGlyphs">*</text>
<text x="510.61" y="524.98" font-family='"Liberation Sans", sans-serif' font-size="12.20" font-weight="400" fill="#000" textLength="37.79" lengthAdjust="spacingAndGlyphs">-VEGF</text>
<text x="510.40" y="539.58" font-family='"Liberation Sans", sans-serif' font-size="12.20" font-weight="400" fill="#000" textLength="42.01" lengthAdjust="spacingAndGlyphs">+VEGF</text>
<text x="137.60" y="746.70" font-family='"Liberation Serif", serif' font-size="12.20" font-weight="700" fill="#000" stroke="#000" stroke-width="0.3" textLength="25.44" lengthAdjust="spacingAndGlyphs">ALA</text>
<text x="190.00" y="746.70" font-family='"Liberation Serif", serif' font-size="12.20" font-weight="700" fill="#000" stroke="#000" stroke-width="0.3" textLength="24.04" lengthAdjust="spacingAndGlyphs">ASN</text>
<text x="240.80" y="746.70" font-family='"Liberation Serif", serif' font-size="12.20" font-weight="700" fill="#000" stroke="#000" stroke-width="0.3" textLength="25.72" lengthAdjust="spacingAndGlyphs">CYS</text>
<text x="292.42" y="746.70" font-family='"Liberation Serif", serif' font-size="12.20" font-weight="700" fill="#000" stroke="#000" stroke-width="0.3" textLength="27.03" lengthAdjust="spacingAndGlyphs">GLN</text>
<text x="343.42" y="746.70" font-family='"Liberation Serif", serif' font-size="12.20" font-weight="700" fill="#000" stroke="#000" stroke-width="0.3" textLength="25.82" lengthAdjust="spacingAndGlyphs">GLY</text>
<text x="398.62" y="746.51" font-family='"Liberation Serif", serif' font-size="12.20" font-weight="700" fill="#000" stroke="#000" stroke-width="0.3" textLength="20.89" lengthAdjust="spacingAndGlyphs">ILE</text>
<text x="449.40" y="746.70" font-family='"Liberation Serif", serif' font-size="12.20" font-weight="700" fill="#000" stroke="#000" stroke-width="0.3" textLength="23.51" lengthAdjust="spacingAndGlyphs">LYS</text>
<text x="499.81" y="746.51" font-family='"Liberation Serif", serif' font-size="12.20" font-weight="700" fill="#000" stroke="#000" stroke-width="0.3" textLength="25.10" lengthAdjust="spacingAndGlyphs">PHE</text>
<text x="551.42" y="746.70" font-family='"Liberation Serif", serif' font-size="12.20" font-weight="700" fill="#000" stroke="#000" stroke-width="0.3" textLength="24.03" lengthAdjust="spacingAndGlyphs">SER</text>
<text x="602.82" y="746.51" font-family='"Liberation Serif", serif' font-size="12.20" font-weight="700" fill="#000" stroke="#000" stroke-width="0.3" textLength="24.41" lengthAdjust="spacingAndGlyphs">TRY</text>
<text x="656.00" y="746.70" font-family='"Liberation Serif", serif' font-size="12.20" font-weight="700" fill="#000" stroke="#000" stroke-width="0.3" textLength="23.50" lengthAdjust="spacingAndGlyphs">VAL</text>
<text x="21.89" y="762.65" font-family='"Liberation Sans", sans-serif' font-size="22.40" font-weight="400" fill="#000" textLength="17.66" lengthAdjust="spacingAndGlyphs">c.</text>
<text x="72.65" y="799.02" font-family='"Liberation Sans", sans-serif' font-size="16.50" font-weight="700" fill="#000" textLength="17.73" lengthAdjust="spacingAndGlyphs">nc</text>
<text x="111.39" y="799.72" font-family='"Liberation Sans", sans-serif' font-size="16.50" font-weight="700" fill="#000" textLength="23.23" lengthAdjust="spacingAndGlyphs">leu</text>
<text x="154.16" y="800.52" font-family='"Liberation Sans", sans-serif' font-size="16.50" font-weight="700" fill="#000" textLength="21.34" lengthAdjust="spacingAndGlyphs">ala</text>
<text x="192.95" y="802.12" font-family='"Liberation Sans", sans-serif' font-size="16.50" font-weight="700" fill="#000" textLength="20.96" lengthAdjust="spacingAndGlyphs">gly</text>
<text x="234.00" y="800.83" font-family='"Liberation Sans", sans-serif' font-size="16.50" font-weight="700" fill="#000" textLength="29.51" lengthAdjust="spacingAndGlyphs">tyro</text>
<text x="275.54" y="800.02" font-family='"Liberation Sans", sans-serif' font-size="16.50" font-weight="700" fill="#000" textLength="22.07" lengthAdjust="spacingAndGlyphs">ser</text>
<text x="11.50" y="841.60" font-family='"Liberation Sans", sans-serif' font-size="16.50" font-weight="700" fill="#000" textLength="31.85" lengthAdjust="spacingAndGlyphs">P-S6</text>
<text x="18.18" y="889.20" font-family='"Liberation Sans", sans-serif' font-size="16.50" font-weight="700" fill="#000" textLength="17.17" lengthAdjust="spacingAndGlyphs">S6</text>
<text x="2.61" y="932.72" font-family='"Liberation Sans", sans-serif' font-size="16.50" font-weight="700" fill="#000" textLength="51.75" lengthAdjust="spacingAndGlyphs">ß-actin</text>
<text x="349.74" y="788.30" font-family='"Liberation Sans", sans-serif' font-size="15.00" font-weight="700" fill="#000" textLength="19.21" lengthAdjust="spacingAndGlyphs">1.2</text>
<text x="350.18" y="828.03" font-family='"Liberation Sans", sans-serif' font-size="15.00" font-weight="700" fill="#000" textLength="18.76" lengthAdjust="spacingAndGlyphs">0.9</text>
<text x="350.18" y="867.28" font-family='"Liberation Sans", sans-serif' font-size="15.00" font-weight="700" fill="#000" textLength="18.76" lengthAdjust="spacingAndGlyphs">0.6</text>
<text x="350.18" y="907.18" font-family='"Liberation Sans", sans-serif' font-size="15.00" font-weight="700" fill="#000" textLength="18.76" lengthAdjust="spacingAndGlyphs">0.3</text>
<text x="362.61" y="946.14" font-family='"Liberation Sans", sans-serif' font-size="15.00" font-weight="700" fill="#000" textLength="6.89" lengthAdjust="spacingAndGlyphs">0</text>
<text x="0.00" y="0.00" transform="translate(337.12,928.96) rotate(-90)" font-family='"Liberation Sans", sans-serif' font-size="16.50" font-weight="700" fill="#000" textLength="132.71" lengthAdjust="spacingAndGlyphs">Relative to ß-actin</text>
<text x="489.40" y="843.60" font-family='"Liberation Sans", sans-serif' font-size="17.92" font-weight="700" fill="#000" textLength="17.17" lengthAdjust="spacing">**</text>
<text x="537.00" y="818.00" font-family='"Liberation Sans", sans-serif' font-size="18.43" font-weight="700" fill="#000" textLength="16.97" lengthAdjust="spacing">**</text>
<text x="583.60" y="817.40" font-family='"Liberation Sans", sans-serif' font-size="20.48" font-weight="700" fill="#000" textLength="16.77" lengthAdjust="spacing">**</text>
<text x="632.00" y="830.80" font-family='"Liberation Sans", sans-serif' font-size="20.48" font-weight="700" fill="#000" textLength="17.57" lengthAdjust="spacing">**</text>
<text x="431.07" y="790.84" font-family='"Liberation Sans", sans-serif' font-size="14.00" font-weight="400" fill="#000" textLength="26.41" lengthAdjust="spacingAndGlyphs">P-S6</text>
<text x="514.28" y="790.84" font-family='"Liberation Sans", sans-serif' font-size="14.00" font-weight="400" fill="#000" textLength="14.24" lengthAdjust="spacingAndGlyphs">S6</text>
<text x="405.25" y="964.48" font-family='"Liberation Sans", sans-serif' font-size="15.50" font-weight="700" fill="#000" textLength="14.05" lengthAdjust="spacingAndGlyphs">nc</text>
<text x="450.15" y="965.38" font-family='"Liberation Sans", sans-serif' font-size="15.50" font-weight="700" fill="#000" textLength="19.73" lengthAdjust="spacingAndGlyphs">leu</text>
<text x="497.80" y="966.38" font-family='"Liberation Sans", sans-serif' font-size="15.50" font-weight="700" fill="#000" textLength="18.12" lengthAdjust="spacingAndGlyphs">ala</text>
<text x="545.21" y="966.98" font-family='"Liberation Sans", sans-serif' font-size="15.50" font-weight="700" fill="#000" textLength="18.11" lengthAdjust="spacingAndGlyphs">gly</text>
<text x="590.00" y="965.77" font-family='"Liberation Sans", sans-serif' font-size="15.50" font-weight="700" fill="#000" textLength="25.44" lengthAdjust="spacingAndGlyphs">tyro</text>
<text x="639.61" y="965.48" font-family='"Liberation Sans", sans-serif' font-size="15.50" font-weight="700" fill="#000" textLength="18.56" lengthAdjust="spacingAndGlyphs">ser</text>
</svg>
</body></html>
